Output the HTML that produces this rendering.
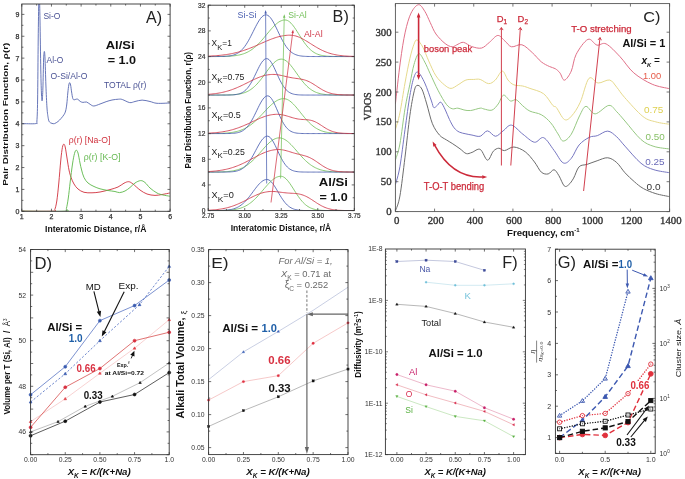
<!DOCTYPE html><html><head><meta charset="utf-8"><style>html,body{margin:0;padding:0;background:#fff;}svg{display:block;}</style></head><body>
<svg width="685" height="479" viewBox="0 0 685 479" style="will-change:transform;filter:blur(0.3px)">
<rect width="685" height="479" fill="#fff"/>
<clipPath id="clipA"><rect x="21.8" y="4.0" width="148.29999999999998" height="207.3"/></clipPath>
<g clip-path="url(#clipA)">
<path d="M21.6,123.6 C23.97,123.6 33.25,124.03 35.8,123.6 C38.35,123.17 36.6,124.93 36.9,121 C37.2,117.07 37.38,113.5 37.6,100 C37.82,86.5 38,56.67 38.2,40 C38.4,23.33 38.6,7.17 38.8,0 C39,-7.17 39.2,-6.33 39.4,-3 C39.6,0.33 39.77,7.83 40,20 C40.23,32.17 40.55,57.5 40.8,70 C41.05,82.5 41.27,89.92 41.5,95 C41.73,100.08 41.97,101.67 42.2,100.5 C42.43,99.33 42.67,94.75 42.9,88 C43.13,81.25 43.37,66.08 43.6,60 C43.83,53.92 44.07,51.83 44.3,51.5 C44.53,51.17 44.73,52.42 45,58 C45.27,63.58 45.57,76.67 45.9,85 C46.23,93.33 46.6,102.42 47,108 C47.4,113.58 47.88,116.17 48.3,118.5 C48.72,120.83 48.88,121.18 49.5,122 C50.12,122.82 51.17,123.13 52,123.4 C52.83,123.67 53.5,123.92 54.5,123.6 C55.5,123.28 56.92,122.35 58,121.5 C59.08,120.65 60.02,119.62 61,118.5 C61.98,117.38 63.13,116.05 63.9,114.8 C64.67,113.55 65.12,112.8 65.6,111 C66.08,109.2 66.43,107 66.8,104 C67.17,101 67.47,96.17 67.8,93 C68.13,89.83 68.48,86.72 68.8,85 C69.12,83.28 69.4,82.7 69.7,82.7 C70,82.7 70.28,83.45 70.6,85 C70.92,86.55 71.23,89.75 71.6,92 C71.97,94.25 72.38,97.2 72.8,98.5 C73.22,99.8 73.6,99.67 74.1,99.8 C74.6,99.93 75.2,99.4 75.8,99.3 C76.4,99.2 76.97,98.85 77.7,99.2 C78.43,99.55 79.33,100.87 80.2,101.4 C81.07,101.93 81.85,102.3 82.9,102.4 C83.95,102.5 85.32,101.7 86.5,102 C87.68,102.3 88.78,103.53 90,104.2 C91.22,104.87 92.13,106.03 93.8,106 C95.47,105.97 97.95,104.72 100,104 C102.05,103.28 104.1,102.37 106.1,101.7 C108.1,101.03 109.93,100.42 112,100 C114.07,99.58 116.78,99.28 118.5,99.2 C120.22,99.12 120.43,98.93 122.3,99.5 C124.17,100.07 127.58,102.27 129.7,102.6 C131.82,102.93 132.93,101.92 135,101.5 C137.07,101.08 139.6,100.1 142.1,100.1 C144.6,100.1 147.52,100.97 150,101.5 C152.48,102.03 153.65,103.05 157,103.3 C160.35,103.55 167.92,103.05 170.1,103" fill="none" stroke="#5666b0" stroke-width="0.9" />
<path d="M21.6,211.2 C26.83,211.2 47.47,211.48 53,211.2 C58.53,210.92 54.17,211.2 54.8,209.5 C55.43,207.8 56.13,205.42 56.8,201 C57.47,196.58 58.13,189.83 58.8,183 C59.47,176.17 60.2,165.92 60.8,160 C61.4,154.08 61.9,150.13 62.4,147.5 C62.9,144.87 63.33,144.28 63.8,144.2 C64.27,144.12 64.67,144.7 65.2,147 C65.73,149.3 66.37,154.17 67,158 C67.63,161.83 68.33,166.78 69,170 C69.67,173.22 70.17,174.97 71,177.3 C71.83,179.63 72.83,182.05 74,184 C75.17,185.95 76.33,187.62 78,189 C79.67,190.38 81.67,191.67 84,192.3 C86.33,192.93 89.33,192.85 92,192.8 C94.67,192.75 97,192.53 100,192 C103,191.47 107,190.43 110,189.6 C113,188.77 115.67,188.07 118,187 C120.33,185.93 122.22,184.08 124,183.2 C125.78,182.32 127.2,181.57 128.7,181.7 C130.2,181.83 131.12,182.62 133,184 C134.88,185.38 137.67,188.33 140,190 C142.33,191.67 144.5,193.1 147,194 C149.5,194.9 152.5,195.32 155,195.4 C157.5,195.48 159.53,194.9 162,194.5 C164.47,194.1 168.5,193.25 169.8,193" fill="none" stroke="#d0303c" stroke-width="0.9" />
<path d="M21.6,211.2 C28.8,211.2 57.33,211.65 64.8,211.2 C72.27,210.75 65.82,210.7 66.4,208.5 C66.98,206.3 67.67,202.42 68.3,198 C68.93,193.58 69.5,187.67 70.2,182 C70.9,176.33 71.78,168.75 72.5,164 C73.22,159.25 73.88,155.8 74.5,153.5 C75.12,151.2 75.62,150.28 76.2,150.2 C76.78,150.12 77.37,150.87 78,153 C78.63,155.13 79.4,160.17 80,163 C80.6,165.83 80.93,167.58 81.6,170 C82.27,172.42 82.93,175.33 84,177.5 C85.07,179.67 86.33,181.5 88,183 C89.67,184.5 92,185.53 94,186.5 C96,187.47 97.67,188.13 100,188.8 C102.33,189.47 105.5,190.05 108,190.5 C110.5,190.95 113.08,191.15 115,191.5 C116.92,191.85 117.83,192.68 119.5,192.6 C121.17,192.52 123.25,191.85 125,191 C126.75,190.15 128.33,188.83 130,187.5 C131.67,186.17 133.23,184.15 135,183 C136.77,181.85 138.93,180.68 140.6,180.6 C142.27,180.52 143.43,181.27 145,182.5 C146.57,183.73 148,186.25 150,188 C152,189.75 154.83,191.83 157,193 C159.17,194.17 160.87,194.47 163,195 C165.13,195.53 168.67,196 169.8,196.2" fill="none" stroke="#5cb84a" stroke-width="0.9" />
</g>
<rect x="21.8" y="4" width="148.3" height="207.3" fill="none" stroke="#333" stroke-width="0.9"/>
<line x1="21.8" y1="211.3" x2="21.8" y2="208.7" stroke="#333" stroke-width="0.7" />
<line x1="21.8" y1="4" x2="21.8" y2="6.6" stroke="#333" stroke-width="0.7" />
<line x1="36.63" y1="211.3" x2="36.63" y2="209.7" stroke="#333" stroke-width="0.7" />
<line x1="36.63" y1="4" x2="36.63" y2="5.6" stroke="#333" stroke-width="0.7" />
<line x1="51.46" y1="211.3" x2="51.46" y2="208.7" stroke="#333" stroke-width="0.7" />
<line x1="51.46" y1="4" x2="51.46" y2="6.6" stroke="#333" stroke-width="0.7" />
<line x1="66.29" y1="211.3" x2="66.29" y2="209.7" stroke="#333" stroke-width="0.7" />
<line x1="66.29" y1="4" x2="66.29" y2="5.6" stroke="#333" stroke-width="0.7" />
<line x1="81.12" y1="211.3" x2="81.12" y2="208.7" stroke="#333" stroke-width="0.7" />
<line x1="81.12" y1="4" x2="81.12" y2="6.6" stroke="#333" stroke-width="0.7" />
<line x1="95.95" y1="211.3" x2="95.95" y2="209.7" stroke="#333" stroke-width="0.7" />
<line x1="95.95" y1="4" x2="95.95" y2="5.6" stroke="#333" stroke-width="0.7" />
<line x1="110.78" y1="211.3" x2="110.78" y2="208.7" stroke="#333" stroke-width="0.7" />
<line x1="110.78" y1="4" x2="110.78" y2="6.6" stroke="#333" stroke-width="0.7" />
<line x1="125.61" y1="211.3" x2="125.61" y2="209.7" stroke="#333" stroke-width="0.7" />
<line x1="125.61" y1="4" x2="125.61" y2="5.6" stroke="#333" stroke-width="0.7" />
<line x1="140.44" y1="211.3" x2="140.44" y2="208.7" stroke="#333" stroke-width="0.7" />
<line x1="140.44" y1="4" x2="140.44" y2="6.6" stroke="#333" stroke-width="0.7" />
<line x1="155.27" y1="211.3" x2="155.27" y2="209.7" stroke="#333" stroke-width="0.7" />
<line x1="155.27" y1="4" x2="155.27" y2="5.6" stroke="#333" stroke-width="0.7" />
<line x1="170.1" y1="211.3" x2="170.1" y2="208.7" stroke="#333" stroke-width="0.7" />
<line x1="170.1" y1="4" x2="170.1" y2="6.6" stroke="#333" stroke-width="0.7" />
<line x1="21.8" y1="211.3" x2="24.4" y2="211.3" stroke="#333" stroke-width="0.7" />
<line x1="170.1" y1="211.3" x2="167.5" y2="211.3" stroke="#333" stroke-width="0.7" />
<line x1="21.8" y1="200.36" x2="23.4" y2="200.36" stroke="#333" stroke-width="0.7" />
<line x1="170.1" y1="200.36" x2="168.5" y2="200.36" stroke="#333" stroke-width="0.7" />
<line x1="21.8" y1="189.42" x2="24.4" y2="189.42" stroke="#333" stroke-width="0.7" />
<line x1="170.1" y1="189.42" x2="167.5" y2="189.42" stroke="#333" stroke-width="0.7" />
<line x1="21.8" y1="178.48" x2="23.4" y2="178.48" stroke="#333" stroke-width="0.7" />
<line x1="170.1" y1="178.48" x2="168.5" y2="178.48" stroke="#333" stroke-width="0.7" />
<line x1="21.8" y1="167.54" x2="24.4" y2="167.54" stroke="#333" stroke-width="0.7" />
<line x1="170.1" y1="167.54" x2="167.5" y2="167.54" stroke="#333" stroke-width="0.7" />
<line x1="21.8" y1="156.6" x2="23.4" y2="156.6" stroke="#333" stroke-width="0.7" />
<line x1="170.1" y1="156.6" x2="168.5" y2="156.6" stroke="#333" stroke-width="0.7" />
<line x1="21.8" y1="145.66" x2="24.4" y2="145.66" stroke="#333" stroke-width="0.7" />
<line x1="170.1" y1="145.66" x2="167.5" y2="145.66" stroke="#333" stroke-width="0.7" />
<line x1="21.8" y1="134.72" x2="23.4" y2="134.72" stroke="#333" stroke-width="0.7" />
<line x1="170.1" y1="134.72" x2="168.5" y2="134.72" stroke="#333" stroke-width="0.7" />
<line x1="21.8" y1="123.78" x2="24.4" y2="123.78" stroke="#333" stroke-width="0.7" />
<line x1="170.1" y1="123.78" x2="167.5" y2="123.78" stroke="#333" stroke-width="0.7" />
<line x1="21.8" y1="112.84" x2="23.4" y2="112.84" stroke="#333" stroke-width="0.7" />
<line x1="170.1" y1="112.84" x2="168.5" y2="112.84" stroke="#333" stroke-width="0.7" />
<line x1="21.8" y1="101.9" x2="24.4" y2="101.9" stroke="#333" stroke-width="0.7" />
<line x1="170.1" y1="101.9" x2="167.5" y2="101.9" stroke="#333" stroke-width="0.7" />
<line x1="21.8" y1="90.96" x2="23.4" y2="90.96" stroke="#333" stroke-width="0.7" />
<line x1="170.1" y1="90.96" x2="168.5" y2="90.96" stroke="#333" stroke-width="0.7" />
<line x1="21.8" y1="80.02" x2="24.4" y2="80.02" stroke="#333" stroke-width="0.7" />
<line x1="170.1" y1="80.02" x2="167.5" y2="80.02" stroke="#333" stroke-width="0.7" />
<line x1="21.8" y1="69.08" x2="23.4" y2="69.08" stroke="#333" stroke-width="0.7" />
<line x1="170.1" y1="69.08" x2="168.5" y2="69.08" stroke="#333" stroke-width="0.7" />
<line x1="21.8" y1="58.14" x2="24.4" y2="58.14" stroke="#333" stroke-width="0.7" />
<line x1="170.1" y1="58.14" x2="167.5" y2="58.14" stroke="#333" stroke-width="0.7" />
<line x1="21.8" y1="47.2" x2="23.4" y2="47.2" stroke="#333" stroke-width="0.7" />
<line x1="170.1" y1="47.2" x2="168.5" y2="47.2" stroke="#333" stroke-width="0.7" />
<line x1="21.8" y1="36.26" x2="24.4" y2="36.26" stroke="#333" stroke-width="0.7" />
<line x1="170.1" y1="36.26" x2="167.5" y2="36.26" stroke="#333" stroke-width="0.7" />
<line x1="21.8" y1="25.32" x2="23.4" y2="25.32" stroke="#333" stroke-width="0.7" />
<line x1="170.1" y1="25.32" x2="168.5" y2="25.32" stroke="#333" stroke-width="0.7" />
<line x1="21.8" y1="14.38" x2="24.4" y2="14.38" stroke="#333" stroke-width="0.7" />
<line x1="170.1" y1="14.38" x2="167.5" y2="14.38" stroke="#333" stroke-width="0.7" />
<text x="21.8" y="219.2" font-family='"Liberation Sans", sans-serif' font-size="7.0" fill="#333" text-anchor="middle" font-weight="normal" font-style="normal" stroke="#333" stroke-width="0.25">1</text>
<text x="51.46" y="219.2" font-family='"Liberation Sans", sans-serif' font-size="7.0" fill="#333" text-anchor="middle" font-weight="normal" font-style="normal" stroke="#333" stroke-width="0.25">2</text>
<text x="81.12" y="219.2" font-family='"Liberation Sans", sans-serif' font-size="7.0" fill="#333" text-anchor="middle" font-weight="normal" font-style="normal" stroke="#333" stroke-width="0.25">3</text>
<text x="110.78" y="219.2" font-family='"Liberation Sans", sans-serif' font-size="7.0" fill="#333" text-anchor="middle" font-weight="normal" font-style="normal" stroke="#333" stroke-width="0.25">4</text>
<text x="140.44" y="219.2" font-family='"Liberation Sans", sans-serif' font-size="7.0" fill="#333" text-anchor="middle" font-weight="normal" font-style="normal" stroke="#333" stroke-width="0.25">5</text>
<text x="170.1" y="219.2" font-family='"Liberation Sans", sans-serif' font-size="7.0" fill="#333" text-anchor="middle" font-weight="normal" font-style="normal" stroke="#333" stroke-width="0.25">6</text>
<text x="19.4" y="213.7" font-family='"Liberation Sans", sans-serif' font-size="7.0" fill="#333" text-anchor="end" font-weight="normal" font-style="normal" stroke="#333" stroke-width="0.25">0</text>
<text x="19.4" y="191.82" font-family='"Liberation Sans", sans-serif' font-size="7.0" fill="#333" text-anchor="end" font-weight="normal" font-style="normal" stroke="#333" stroke-width="0.25">1</text>
<text x="19.4" y="169.94" font-family='"Liberation Sans", sans-serif' font-size="7.0" fill="#333" text-anchor="end" font-weight="normal" font-style="normal" stroke="#333" stroke-width="0.25">2</text>
<text x="19.4" y="148.06" font-family='"Liberation Sans", sans-serif' font-size="7.0" fill="#333" text-anchor="end" font-weight="normal" font-style="normal" stroke="#333" stroke-width="0.25">3</text>
<text x="19.4" y="126.18" font-family='"Liberation Sans", sans-serif' font-size="7.0" fill="#333" text-anchor="end" font-weight="normal" font-style="normal" stroke="#333" stroke-width="0.25">4</text>
<text x="19.4" y="104.3" font-family='"Liberation Sans", sans-serif' font-size="7.0" fill="#333" text-anchor="end" font-weight="normal" font-style="normal" stroke="#333" stroke-width="0.25">5</text>
<text x="19.4" y="82.42" font-family='"Liberation Sans", sans-serif' font-size="7.0" fill="#333" text-anchor="end" font-weight="normal" font-style="normal" stroke="#333" stroke-width="0.25">6</text>
<text x="19.4" y="60.54" font-family='"Liberation Sans", sans-serif' font-size="7.0" fill="#333" text-anchor="end" font-weight="normal" font-style="normal" stroke="#333" stroke-width="0.25">7</text>
<text x="19.4" y="38.66" font-family='"Liberation Sans", sans-serif' font-size="7.0" fill="#333" text-anchor="end" font-weight="normal" font-style="normal" stroke="#333" stroke-width="0.25">8</text>
<text x="19.4" y="16.78" font-family='"Liberation Sans", sans-serif' font-size="7.0" fill="#333" text-anchor="end" font-weight="normal" font-style="normal" stroke="#333" stroke-width="0.25">9</text>
<text x="95.7" y="232.4" font-family='"Liberation Sans", sans-serif' font-size="8.8" fill="#111" text-anchor="middle" font-weight="bold" font-style="normal"  textLength="101.4" lengthAdjust="spacingAndGlyphs">Interatomic Distance, r/&#197;</text>
<text x="0" y="0" font-family='"Liberation Sans", sans-serif' font-size="8.0" fill="#111" text-anchor="middle" font-weight="bold" font-style="normal" transform="translate(8.3,114.2) rotate(-90)" textLength="143" lengthAdjust="spacingAndGlyphs">Pair Distribution Function, &#961;(r)</text>
<text x="146" y="22.6" font-family='"Liberation Sans", sans-serif' font-size="16.4" fill="#222" text-anchor="start" font-weight="normal" font-style="normal"  textLength="16" lengthAdjust="spacingAndGlyphs">A)</text>
<text x="120.1" y="49.2" font-family='"Liberation Sans", sans-serif' font-size="11.4" fill="#111" text-anchor="middle" font-weight="bold" font-style="normal"  textLength="28.8" lengthAdjust="spacingAndGlyphs">Al/Si</text>
<text x="121.9" y="64.2" font-family='"Liberation Sans", sans-serif' font-size="11.4" fill="#111" text-anchor="middle" font-weight="bold" font-style="normal"  textLength="28.4" lengthAdjust="spacingAndGlyphs">= 1.0</text>
<text x="43.4" y="19" font-family='"Liberation Sans", sans-serif' font-size="8.8" fill="#4a5294" text-anchor="start" font-weight="normal" font-style="normal"  textLength="17" lengthAdjust="spacingAndGlyphs">Si-O</text>
<text x="46.6" y="62.5" font-family='"Liberation Sans", sans-serif' font-size="8.8" fill="#4a5294" text-anchor="start" font-weight="normal" font-style="normal"  textLength="16.8" lengthAdjust="spacingAndGlyphs">Al-O</text>
<text x="50.6" y="78.6" font-family='"Liberation Sans", sans-serif' font-size="8.8" fill="#4a5294" text-anchor="start" font-weight="normal" font-style="normal"  textLength="36.8" lengthAdjust="spacingAndGlyphs">O-Si/Al-O</text>
<text x="104" y="87.9" font-family='"Liberation Sans", sans-serif' font-size="8.4" fill="#4a5294" text-anchor="start" font-weight="normal" font-style="normal"  textLength="42.4" lengthAdjust="spacingAndGlyphs">TOTAL &#961;(r)</text>
<text x="68.8" y="143.4" font-family='"Liberation Sans", sans-serif' font-size="8.8" fill="#d0303c" text-anchor="start" font-weight="normal" font-style="normal"  textLength="41.6" lengthAdjust="spacingAndGlyphs">&#961;(r) [Na-O]</text>
<text x="83.8" y="159.8" font-family='"Liberation Sans", sans-serif' font-size="8.8" fill="#64b850" text-anchor="start" font-weight="normal" font-style="normal"  textLength="36.6" lengthAdjust="spacingAndGlyphs">&#961;(r) [K-O]</text>
<clipPath id="clipB"><rect x="208.2" y="5.2" width="146.10000000000002" height="205.4"/></clipPath>
<g clip-path="url(#clipB)">
<path d="M208.2,56.54 L209.42,56.54 L210.63,56.54 L211.85,56.54 L213.07,56.53 L214.29,56.53 L215.5,56.52 L216.72,56.52 L217.94,56.51 L219.16,56.5 L220.38,56.48 L221.59,56.46 L222.81,56.44 L224.03,56.41 L225.25,56.38 L226.46,56.34 L227.68,56.29 L228.9,56.23 L230.11,56.15 L231.33,56.07 L232.55,55.96 L233.77,55.84 L234.98,55.7 L236.2,55.53 L237.42,55.33 L238.64,55.1 L239.86,54.84 L241.07,54.54 L242.29,54.19 L243.51,53.8 L244.72,53.35 L245.94,52.85 L247.16,52.3 L248.38,51.68 L249.59,50.99 L250.81,50.24 L252.03,49.41 L253.25,48.52 L254.46,47.55 L255.68,46.51 L256.9,45.4 L258.12,44.22 L259.34,42.97 L260.55,41.67 L261.77,40.31 L262.99,38.91 L264.2,37.48 L265.42,36.01 L266.64,34.54 L267.86,33.06 L269.07,31.59 L270.29,30.15 L271.51,28.75 L272.73,27.41 L273.95,26.14 L275.16,24.95 L276.38,23.86 L277.6,22.89 L278.81,22.03 L280.03,21.32 L281.25,20.75 L282.47,20.33 L283.69,20.06 L284.9,19.96 L286.12,20.07 L287.34,20.46 L288.55,21.11 L289.77,22.02 L290.99,23.17 L292.21,24.52 L293.43,26.05 L294.64,27.74 L295.86,29.54 L297.08,31.42 L298.3,33.35 L299.51,35.29 L300.73,37.22 L301.95,39.11 L303.16,40.94 L304.38,42.68 L305.6,44.33 L306.82,45.86 L308.04,47.27 L309.25,48.55 L310.47,49.71 L311.69,50.75 L312.91,51.67 L314.12,52.47 L315.34,53.17 L316.56,53.77 L317.77,54.28 L318.99,54.71 L320.21,55.07 L321.43,55.37 L322.64,55.62 L323.86,55.82 L325.08,55.98 L326.3,56.11 L327.51,56.21 L328.73,56.29 L329.95,56.35 L331.17,56.4 L332.38,56.44 L333.6,56.47 L334.82,56.49 L336.04,56.51 L337.25,56.52 L338.47,56.53 L339.69,56.53 L340.91,56.54 L342.12,56.54 L343.34,56.54 L344.56,56.55 L345.78,56.55 L347,56.55 L348.21,56.55 L349.43,56.55 L350.65,56.55 L351.87,56.55 L353.08,56.55 L354.3,56.55" fill="none" stroke="#74c05a" stroke-width="0.85" />
<path d="M208.2,56.55 L209.42,56.55 L210.63,56.55 L211.85,56.55 L213.07,56.54 L214.29,56.54 L215.5,56.54 L216.72,56.53 L217.94,56.52 L219.16,56.51 L220.38,56.49 L221.59,56.47 L222.81,56.43 L224.03,56.39 L225.25,56.33 L226.46,56.25 L227.68,56.14 L228.9,56.01 L230.11,55.83 L231.33,55.6 L232.55,55.32 L233.77,54.97 L234.98,54.53 L236.2,54 L237.42,53.36 L238.64,52.59 L239.86,51.69 L241.07,50.64 L242.29,49.42 L243.51,48.04 L244.72,46.48 L245.94,44.75 L247.16,42.85 L248.38,40.79 L249.59,38.59 L250.81,36.28 L252.03,33.88 L253.25,31.44 L254.46,28.99 L255.68,26.59 L256.9,24.29 L258.12,22.13 L259.34,20.17 L260.55,18.45 L261.77,17.03 L262.99,15.94 L264.2,15.21 L265.42,14.86 L266.64,14.91 L267.86,15.38 L269.07,16.26 L270.29,17.53 L271.51,19.15 L272.73,21.07 L273.95,23.23 L275.16,25.59 L276.38,28.07 L277.6,30.63 L278.81,33.2 L280.03,35.72 L281.25,38.17 L282.47,40.5 L283.69,42.67 L284.9,44.68 L286.12,46.5 L287.34,48.12 L288.55,49.56 L289.77,50.81 L290.99,51.89 L292.21,52.8 L293.43,53.57 L294.64,54.2 L295.86,54.72 L297.08,55.14 L298.3,55.47 L299.51,55.73 L300.73,55.94 L301.95,56.1 L303.16,56.22 L304.38,56.31 L305.6,56.38 L306.82,56.43 L308.04,56.46 L309.25,56.49 L310.47,56.51 L311.69,56.52 L312.91,56.53 L314.12,56.54 L315.34,56.54 L316.56,56.54 L317.77,56.55 L318.99,56.55 L320.21,56.55 L321.43,56.55 L322.64,56.55 L323.86,56.55 L325.08,56.55 L326.3,56.55 L327.51,56.55 L328.73,56.55 L329.95,56.55 L331.17,56.55 L332.38,56.55 L333.6,56.55 L334.82,56.55 L336.04,56.55 L337.25,56.55 L338.47,56.55 L339.69,56.55 L340.91,56.55 L342.12,56.55 L343.34,56.55 L344.56,56.55 L345.78,56.55 L347,56.55 L348.21,56.55 L349.43,56.55 L350.65,56.55 L351.87,56.55 L353.08,56.55 L354.3,56.55" fill="none" stroke="#4a5fb0" stroke-width="0.85" />
<path d="M208.2,56.13 L209.42,56.07 L210.63,56.02 L211.85,55.95 L213.07,55.88 L214.29,55.81 L215.5,55.72 L216.72,55.63 L217.94,55.53 L219.16,55.42 L220.38,55.3 L221.59,55.17 L222.81,55.03 L224.03,54.88 L225.25,54.72 L226.46,54.54 L227.68,54.35 L228.9,54.15 L230.11,53.94 L231.33,53.71 L232.55,53.46 L233.77,53.2 L234.98,52.92 L236.2,52.63 L237.42,52.32 L238.64,51.99 L239.86,51.65 L241.07,51.29 L242.29,50.92 L243.51,50.53 L244.72,50.12 L245.94,49.7 L247.16,49.26 L248.38,48.81 L249.59,48.34 L250.81,47.86 L252.03,47.37 L253.25,46.87 L254.46,46.35 L255.68,45.83 L256.9,45.3 L258.12,44.77 L259.34,44.23 L260.55,43.69 L261.77,43.15 L262.99,42.62 L264.2,42.08 L265.42,41.55 L266.64,41.03 L267.86,40.52 L269.07,40.02 L270.29,39.53 L271.51,39.06 L272.73,38.61 L273.95,38.18 L275.16,37.77 L276.38,37.38 L277.6,37.02 L278.81,36.69 L280.03,36.39 L281.25,36.12 L282.47,35.88 L283.69,35.67 L284.9,35.5 L286.12,35.36 L287.34,35.27 L288.55,35.2 L289.77,35.18 L290.99,35.2 L292.21,35.3 L293.43,35.47 L294.64,35.72 L295.86,36.03 L297.08,36.41 L298.3,36.86 L299.51,37.36 L300.73,37.92 L301.95,38.52 L303.16,39.17 L304.38,39.85 L305.6,40.56 L306.82,41.3 L308.04,42.05 L309.25,42.81 L310.47,43.59 L311.69,44.36 L312.91,45.12 L314.12,45.88 L315.34,46.62 L316.56,47.34 L317.77,48.04 L318.99,48.71 L320.21,49.36 L321.43,49.98 L322.64,50.56 L323.86,51.11 L325.08,51.63 L326.3,52.12 L327.51,52.57 L328.73,52.99 L329.95,53.37 L331.17,53.73 L332.38,54.05 L333.6,54.34 L334.82,54.61 L336.04,54.85 L337.25,55.07 L338.47,55.26 L339.69,55.43 L340.91,55.58 L342.12,55.72 L343.34,55.84 L344.56,55.94 L345.78,56.03 L347,56.11 L348.21,56.18 L349.43,56.24 L350.65,56.29 L351.87,56.33 L353.08,56.37 L354.3,56.4" fill="none" stroke="#d03848" stroke-width="0.85" />
<path d="M208.2,95.06 L209.42,95.06 L210.63,95.06 L211.85,95.06 L213.07,95.06 L214.29,95.06 L215.5,95.06 L216.72,95.05 L217.94,95.05 L219.16,95.05 L220.38,95.04 L221.59,95.03 L222.81,95.02 L224.03,95.01 L225.25,95 L226.46,94.98 L227.68,94.95 L228.9,94.92 L230.11,94.87 L231.33,94.82 L232.55,94.76 L233.77,94.67 L234.98,94.57 L236.2,94.45 L237.42,94.3 L238.64,94.13 L239.86,93.91 L241.07,93.66 L242.29,93.36 L243.51,93.01 L244.72,92.6 L245.94,92.12 L247.16,91.58 L248.38,90.96 L249.59,90.26 L250.81,89.47 L252.03,88.59 L253.25,87.62 L254.46,86.55 L255.68,85.39 L256.9,84.14 L258.12,82.79 L259.34,81.36 L260.55,79.86 L261.77,78.29 L262.99,76.67 L264.2,75.01 L265.42,73.33 L266.64,71.65 L267.86,69.99 L269.07,68.37 L270.29,66.82 L271.51,65.35 L272.73,64 L273.95,62.77 L275.16,61.7 L276.38,60.79 L277.6,60.07 L278.81,59.54 L280.03,59.22 L281.25,59.12 L282.47,59.23 L283.69,59.57 L284.9,60.12 L286.12,60.88 L287.34,61.84 L288.55,62.97 L289.77,64.26 L290.99,65.68 L292.21,67.21 L293.43,68.83 L294.64,70.51 L295.86,72.22 L297.08,73.95 L298.3,75.67 L299.51,77.37 L300.73,79.01 L301.95,80.6 L303.16,82.11 L304.38,83.53 L305.6,84.86 L306.82,86.1 L308.04,87.23 L309.25,88.27 L310.47,89.2 L311.69,90.04 L312.91,90.79 L314.12,91.44 L315.34,92.02 L316.56,92.52 L317.77,92.95 L318.99,93.32 L320.21,93.63 L321.43,93.9 L322.64,94.12 L323.86,94.3 L325.08,94.46 L326.3,94.58 L327.51,94.68 L328.73,94.76 L329.95,94.83 L331.17,94.88 L332.38,94.92 L333.6,94.96 L334.82,94.98 L336.04,95 L337.25,95.02 L338.47,95.03 L339.69,95.04 L340.91,95.04 L342.12,95.05 L343.34,95.05 L344.56,95.06 L345.78,95.06 L347,95.06 L348.21,95.06 L349.43,95.06 L350.65,95.06 L351.87,95.06 L353.08,95.06 L354.3,95.06" fill="none" stroke="#74c05a" stroke-width="0.85" />
<path d="M208.2,95.06 L209.42,95.06 L210.63,95.06 L211.85,95.06 L213.07,95.06 L214.29,95.06 L215.5,95.06 L216.72,95.06 L217.94,95.06 L219.16,95.06 L220.38,95.06 L221.59,95.06 L222.81,95.06 L224.03,95.05 L225.25,95.05 L226.46,95.04 L227.68,95.02 L228.9,95 L230.11,94.97 L231.33,94.93 L232.55,94.87 L233.77,94.79 L234.98,94.67 L236.2,94.51 L237.42,94.29 L238.64,94.01 L239.86,93.64 L241.07,93.16 L242.29,92.56 L243.51,91.81 L244.72,90.9 L245.94,89.8 L247.16,88.5 L248.38,86.98 L249.59,85.25 L250.81,83.31 L252.03,81.17 L253.25,78.85 L254.46,76.4 L255.68,73.87 L256.9,71.31 L258.12,68.8 L259.34,66.42 L260.55,64.23 L261.77,62.31 L262.99,60.74 L264.2,59.57 L265.42,58.85 L266.64,58.6 L267.86,58.88 L269.07,59.68 L270.29,60.99 L271.51,62.73 L272.73,64.84 L273.95,67.24 L275.16,69.83 L276.38,72.52 L277.6,75.22 L278.81,77.86 L280.03,80.37 L281.25,82.7 L282.47,84.81 L283.69,86.69 L284.9,88.33 L286.12,89.73 L287.34,90.9 L288.55,91.86 L289.77,92.64 L290.99,93.25 L292.21,93.73 L293.43,94.1 L294.64,94.38 L295.86,94.58 L297.08,94.73 L298.3,94.83 L299.51,94.91 L300.73,94.96 L301.95,95 L303.16,95.02 L304.38,95.04 L305.6,95.05 L306.82,95.05 L308.04,95.06 L309.25,95.06 L310.47,95.06 L311.69,95.06 L312.91,95.06 L314.12,95.06 L315.34,95.06 L316.56,95.06 L317.77,95.06 L318.99,95.06 L320.21,95.06 L321.43,95.06 L322.64,95.06 L323.86,95.06 L325.08,95.06 L326.3,95.06 L327.51,95.06 L328.73,95.06 L329.95,95.06 L331.17,95.06 L332.38,95.06 L333.6,95.06 L334.82,95.06 L336.04,95.06 L337.25,95.06 L338.47,95.06 L339.69,95.06 L340.91,95.06 L342.12,95.06 L343.34,95.06 L344.56,95.06 L345.78,95.06 L347,95.06 L348.21,95.06 L349.43,95.06 L350.65,95.06 L351.87,95.06 L353.08,95.06 L354.3,95.06" fill="none" stroke="#4a5fb0" stroke-width="0.85" />
<path d="M208.2,94.34 L209.42,94.24 L210.63,94.14 L211.85,94.02 L213.07,93.89 L214.29,93.74 L215.5,93.58 L216.72,93.41 L217.94,93.22 L219.16,93.01 L220.38,92.79 L221.59,92.55 L222.81,92.28 L224.03,92 L225.25,91.7 L226.46,91.37 L227.68,91.03 L228.9,90.66 L230.11,90.27 L231.33,89.86 L232.55,89.42 L233.77,88.97 L234.98,88.49 L236.2,88 L237.42,87.48 L238.64,86.95 L239.86,86.4 L241.07,85.83 L242.29,85.25 L243.51,84.66 L244.72,84.06 L245.94,83.46 L247.16,82.85 L248.38,82.24 L249.59,81.63 L250.81,81.03 L252.03,80.43 L253.25,79.84 L254.46,79.27 L255.68,78.72 L256.9,78.19 L258.12,77.69 L259.34,77.21 L260.55,76.76 L261.77,76.34 L262.99,75.96 L264.2,75.62 L265.42,75.32 L266.64,75.07 L267.86,74.85 L269.07,74.68 L270.29,74.55 L271.51,74.47 L272.73,74.43 L273.95,74.43 L275.16,74.5 L276.38,74.61 L277.6,74.76 L278.81,74.96 L280.03,75.18 L281.25,75.44 L282.47,75.71 L283.69,76 L284.9,76.29 L286.12,76.58 L287.34,76.87 L288.55,77.14 L289.77,77.39 L290.99,77.62 L292.21,77.84 L293.43,78.03 L294.64,78.21 L295.86,78.37 L297.08,78.53 L298.3,78.7 L299.51,78.87 L300.73,79.07 L301.95,79.3 L303.16,79.58 L304.38,79.9 L305.6,80.28 L306.82,80.71 L308.04,81.22 L309.25,81.78 L310.47,82.4 L311.69,83.08 L312.91,83.8 L314.12,84.56 L315.34,85.35 L316.56,86.14 L317.77,86.94 L318.99,87.74 L320.21,88.5 L321.43,89.24 L322.64,89.94 L323.86,90.6 L325.08,91.2 L326.3,91.75 L327.51,92.25 L328.73,92.69 L329.95,93.07 L331.17,93.41 L332.38,93.7 L333.6,93.95 L334.82,94.15 L336.04,94.33 L337.25,94.47 L338.47,94.59 L339.69,94.69 L340.91,94.76 L342.12,94.83 L343.34,94.88 L344.56,94.92 L345.78,94.95 L347,94.97 L348.21,94.99 L349.43,95.01 L350.65,95.02 L351.87,95.03 L353.08,95.03 L354.3,95.04" fill="none" stroke="#d03848" stroke-width="0.85" />
<path d="M208.2,133.55 L209.42,133.55 L210.63,133.54 L211.85,133.53 L213.07,133.52 L214.29,133.5 L215.5,133.48 L216.72,133.46 L217.94,133.44 L219.16,133.41 L220.38,133.37 L221.59,133.33 L222.81,133.27 L224.03,133.21 L225.25,133.14 L226.46,133.05 L227.68,132.95 L228.9,132.83 L230.11,132.69 L231.33,132.53 L232.55,132.35 L233.77,132.14 L234.98,131.9 L236.2,131.63 L237.42,131.32 L238.64,130.97 L239.86,130.59 L241.07,130.15 L242.29,129.68 L243.51,129.15 L244.72,128.56 L245.94,127.93 L247.16,127.23 L248.38,126.48 L249.59,125.67 L250.81,124.8 L252.03,123.87 L253.25,122.88 L254.46,121.84 L255.68,120.74 L256.9,119.6 L258.12,118.41 L259.34,117.18 L260.55,115.92 L261.77,114.64 L262.99,113.34 L264.2,112.03 L265.42,110.73 L266.64,109.44 L267.86,108.17 L269.07,106.94 L270.29,105.75 L271.51,104.63 L272.73,103.57 L273.95,102.59 L275.16,101.7 L276.38,100.91 L277.6,100.23 L278.81,99.66 L280.03,99.22 L281.25,98.9 L282.47,98.71 L283.69,98.66 L284.9,98.76 L286.12,99.05 L287.34,99.52 L288.55,100.15 L289.77,100.94 L290.99,101.89 L292.21,102.96 L293.43,104.16 L294.64,105.45 L295.86,106.83 L297.08,108.28 L298.3,109.77 L299.51,111.29 L300.73,112.83 L301.95,114.36 L303.16,115.86 L304.38,117.34 L305.6,118.77 L306.82,120.15 L308.04,121.46 L309.25,122.7 L310.47,123.87 L311.69,124.95 L312.91,125.96 L314.12,126.88 L315.34,127.72 L316.56,128.48 L317.77,129.17 L318.99,129.78 L320.21,130.33 L321.43,130.81 L322.64,131.23 L323.86,131.6 L325.08,131.92 L326.3,132.2 L327.51,132.43 L328.73,132.63 L329.95,132.8 L331.17,132.94 L332.38,133.06 L333.6,133.16 L334.82,133.24 L336.04,133.31 L337.25,133.36 L338.47,133.41 L339.69,133.44 L340.91,133.47 L342.12,133.49 L343.34,133.51 L344.56,133.53 L345.78,133.54 L347,133.55 L348.21,133.55 L349.43,133.56 L350.65,133.56 L351.87,133.57 L353.08,133.57 L354.3,133.57" fill="none" stroke="#74c05a" stroke-width="0.85" />
<path d="M208.2,133.57 L209.42,133.57 L210.63,133.57 L211.85,133.57 L213.07,133.57 L214.29,133.57 L215.5,133.57 L216.72,133.57 L217.94,133.57 L219.16,133.57 L220.38,133.57 L221.59,133.57 L222.81,133.57 L224.03,133.56 L225.25,133.55 L226.46,133.54 L227.68,133.53 L228.9,133.5 L230.11,133.47 L231.33,133.42 L232.55,133.35 L233.77,133.26 L234.98,133.13 L236.2,132.96 L237.42,132.74 L238.64,132.44 L239.86,132.07 L241.07,131.59 L242.29,130.99 L243.51,130.25 L244.72,129.36 L245.94,128.28 L247.16,127.02 L248.38,125.55 L249.59,123.88 L250.81,122.01 L252.03,119.93 L253.25,117.69 L254.46,115.3 L255.68,112.81 L256.9,110.28 L258.12,107.75 L259.34,105.3 L260.55,103 L261.77,100.91 L262.99,99.12 L264.2,97.67 L265.42,96.61 L266.64,96 L267.86,95.84 L269.07,96.22 L270.29,97.17 L271.51,98.64 L272.73,100.56 L273.95,102.86 L275.16,105.43 L276.38,108.19 L277.6,111.02 L278.81,113.85 L280.03,116.59 L281.25,119.17 L282.47,121.55 L283.69,123.69 L284.9,125.57 L286.12,127.2 L287.34,128.57 L288.55,129.71 L289.77,130.63 L290.99,131.37 L292.21,131.95 L293.43,132.39 L294.64,132.73 L295.86,132.98 L297.08,133.16 L298.3,133.29 L299.51,133.39 L300.73,133.45 L301.95,133.49 L303.16,133.52 L304.38,133.54 L305.6,133.55 L306.82,133.56 L308.04,133.57 L309.25,133.57 L310.47,133.57 L311.69,133.57 L312.91,133.57 L314.12,133.57 L315.34,133.57 L316.56,133.57 L317.77,133.57 L318.99,133.57 L320.21,133.57 L321.43,133.57 L322.64,133.57 L323.86,133.57 L325.08,133.57 L326.3,133.57 L327.51,133.57 L328.73,133.57 L329.95,133.57 L331.17,133.57 L332.38,133.57 L333.6,133.57 L334.82,133.57 L336.04,133.57 L337.25,133.57 L338.47,133.57 L339.69,133.57 L340.91,133.57 L342.12,133.57 L343.34,133.57 L344.56,133.57 L345.78,133.57 L347,133.57 L348.21,133.57 L349.43,133.57 L350.65,133.57 L351.87,133.57 L353.08,133.57 L354.3,133.57" fill="none" stroke="#4a5fb0" stroke-width="0.85" />
<path d="M208.2,133.15 L209.42,133.09 L210.63,133.02 L211.85,132.95 L213.07,132.86 L214.29,132.77 L215.5,132.66 L216.72,132.55 L217.94,132.42 L219.16,132.28 L220.38,132.13 L221.59,131.96 L222.81,131.77 L224.03,131.57 L225.25,131.35 L226.46,131.12 L227.68,130.87 L228.9,130.59 L230.11,130.3 L231.33,129.99 L232.55,129.66 L233.77,129.3 L234.98,128.93 L236.2,128.53 L237.42,128.12 L238.64,127.69 L239.86,127.23 L241.07,126.76 L242.29,126.27 L243.51,125.76 L244.72,125.24 L245.94,124.7 L247.16,124.16 L248.38,123.6 L249.59,123.04 L250.81,122.47 L252.03,121.9 L253.25,121.32 L254.46,120.75 L255.68,120.19 L256.9,119.64 L258.12,119.09 L259.34,118.57 L260.55,118.06 L261.77,117.57 L262.99,117.1 L264.2,116.67 L265.42,116.26 L266.64,115.88 L267.86,115.54 L269.07,115.24 L270.29,114.98 L271.51,114.76 L272.73,114.58 L273.95,114.45 L275.16,114.36 L276.38,114.31 L277.6,114.31 L278.81,114.37 L280.03,114.48 L281.25,114.64 L282.47,114.86 L283.69,115.12 L284.9,115.41 L286.12,115.74 L287.34,116.1 L288.55,116.47 L289.77,116.85 L290.99,117.23 L292.21,117.6 L293.43,117.96 L294.64,118.28 L295.86,118.58 L297.08,118.83 L298.3,119.05 L299.51,119.22 L300.73,119.35 L301.95,119.45 L303.16,119.53 L304.38,119.59 L305.6,119.66 L306.82,119.74 L308.04,119.86 L309.25,120.02 L310.47,120.24 L311.69,120.53 L312.91,120.9 L314.12,121.35 L315.34,121.89 L316.56,122.5 L317.77,123.18 L318.99,123.91 L320.21,124.68 L321.43,125.48 L322.64,126.29 L323.86,127.08 L325.08,127.85 L326.3,128.59 L327.51,129.27 L328.73,129.9 L329.95,130.47 L331.17,130.98 L332.38,131.42 L333.6,131.81 L334.82,132.13 L336.04,132.41 L337.25,132.64 L338.47,132.82 L339.69,132.98 L340.91,133.1 L342.12,133.2 L343.34,133.28 L344.56,133.34 L345.78,133.39 L347,133.43 L348.21,133.46 L349.43,133.48 L350.65,133.5 L351.87,133.51 L353.08,133.53 L354.3,133.53" fill="none" stroke="#d03848" stroke-width="0.85" />
<path d="M208.2,172.07 L209.42,172.07 L210.63,172.06 L211.85,172.06 L213.07,172.05 L214.29,172.04 L215.5,172.02 L216.72,172.01 L217.94,171.99 L219.16,171.96 L220.38,171.93 L221.59,171.89 L222.81,171.84 L224.03,171.78 L225.25,171.71 L226.46,171.63 L227.68,171.53 L228.9,171.41 L230.11,171.27 L231.33,171.1 L232.55,170.91 L233.77,170.69 L234.98,170.43 L236.2,170.13 L237.42,169.8 L238.64,169.41 L239.86,168.98 L241.07,168.49 L242.29,167.94 L243.51,167.33 L244.72,166.66 L245.94,165.92 L247.16,165.11 L248.38,164.23 L249.59,163.28 L250.81,162.27 L252.03,161.18 L253.25,160.03 L254.46,158.83 L255.68,157.56 L256.9,156.25 L258.12,154.9 L259.34,153.52 L260.55,152.12 L261.77,150.72 L262.99,149.32 L264.2,147.94 L265.42,146.59 L266.64,145.29 L267.86,144.06 L269.07,142.9 L270.29,141.83 L271.51,140.87 L272.73,140.03 L273.95,139.31 L275.16,138.73 L276.38,138.3 L277.6,138.01 L278.81,137.88 L280.03,137.91 L281.25,138.1 L282.47,138.44 L283.69,138.94 L284.9,139.58 L286.12,140.36 L287.34,141.26 L288.55,142.27 L289.77,143.39 L290.99,144.59 L292.21,145.87 L293.43,147.2 L294.64,148.58 L295.86,149.98 L297.08,151.39 L298.3,152.81 L299.51,154.21 L300.73,155.59 L301.95,156.93 L303.16,158.23 L304.38,159.47 L305.6,160.66 L306.82,161.78 L308.04,162.84 L309.25,163.83 L310.47,164.74 L311.69,165.59 L312.91,166.36 L314.12,167.07 L315.34,167.71 L316.56,168.28 L317.77,168.8 L318.99,169.26 L320.21,169.66 L321.43,170.02 L322.64,170.33 L323.86,170.6 L325.08,170.84 L326.3,171.04 L327.51,171.22 L328.73,171.37 L329.95,171.49 L331.17,171.6 L332.38,171.69 L333.6,171.76 L334.82,171.82 L336.04,171.88 L337.25,171.92 L338.47,171.95 L339.69,171.98 L340.91,172 L342.12,172.02 L343.34,172.03 L344.56,172.05 L345.78,172.06 L347,172.06 L348.21,172.07 L349.43,172.07 L350.65,172.08 L351.87,172.08 L353.08,172.08 L354.3,172.08" fill="none" stroke="#74c05a" stroke-width="0.85" />
<path d="M208.2,172.09 L209.42,172.09 L210.63,172.09 L211.85,172.09 L213.07,172.09 L214.29,172.09 L215.5,172.09 L216.72,172.09 L217.94,172.08 L219.16,172.08 L220.38,172.08 L221.59,172.07 L222.81,172.07 L224.03,172.06 L225.25,172.04 L226.46,172.02 L227.68,171.99 L228.9,171.95 L230.11,171.89 L231.33,171.81 L232.55,171.71 L233.77,171.57 L234.98,171.39 L236.2,171.15 L237.42,170.85 L238.64,170.47 L239.86,169.99 L241.07,169.41 L242.29,168.7 L243.51,167.85 L244.72,166.84 L245.94,165.67 L247.16,164.33 L248.38,162.81 L249.59,161.11 L250.81,159.24 L252.03,157.23 L253.25,155.09 L254.46,152.85 L255.68,150.56 L256.9,148.27 L258.12,146.02 L259.34,143.88 L260.55,141.9 L261.77,140.13 L262.99,138.64 L264.2,137.47 L265.42,136.65 L266.64,136.21 L267.86,136.18 L269.07,136.65 L270.29,137.62 L271.51,139.05 L272.73,140.88 L273.95,143.03 L275.16,145.42 L276.38,147.98 L277.6,150.6 L278.81,153.22 L280.03,155.75 L281.25,158.16 L282.47,160.38 L283.69,162.38 L284.9,164.17 L286.12,165.71 L287.34,167.03 L288.55,168.14 L289.77,169.04 L290.99,169.78 L292.21,170.36 L293.43,170.81 L294.64,171.16 L295.86,171.42 L297.08,171.62 L298.3,171.76 L299.51,171.86 L300.73,171.94 L301.95,171.99 L303.16,172.02 L304.38,172.04 L305.6,172.06 L306.82,172.07 L308.04,172.08 L309.25,172.08 L310.47,172.08 L311.69,172.09 L312.91,172.09 L314.12,172.09 L315.34,172.09 L316.56,172.09 L317.77,172.09 L318.99,172.09 L320.21,172.09 L321.43,172.09 L322.64,172.09 L323.86,172.09 L325.08,172.09 L326.3,172.09 L327.51,172.09 L328.73,172.09 L329.95,172.09 L331.17,172.09 L332.38,172.09 L333.6,172.09 L334.82,172.09 L336.04,172.09 L337.25,172.09 L338.47,172.09 L339.69,172.09 L340.91,172.09 L342.12,172.09 L343.34,172.09 L344.56,172.09 L345.78,172.09 L347,172.09 L348.21,172.09 L349.43,172.09 L350.65,172.09 L351.87,172.09 L353.08,172.09 L354.3,172.09" fill="none" stroke="#4a5fb0" stroke-width="0.85" />
<path d="M208.2,171.57 L209.42,171.5 L210.63,171.42 L211.85,171.33 L213.07,171.23 L214.29,171.12 L215.5,171 L216.72,170.86 L217.94,170.71 L219.16,170.55 L220.38,170.37 L221.59,170.18 L222.81,169.97 L224.03,169.74 L225.25,169.49 L226.46,169.22 L227.68,168.93 L228.9,168.62 L230.11,168.29 L231.33,167.93 L232.55,167.56 L233.77,167.16 L234.98,166.73 L236.2,166.29 L237.42,165.82 L238.64,165.33 L239.86,164.81 L241.07,164.28 L242.29,163.73 L243.51,163.16 L244.72,162.57 L245.94,161.96 L247.16,161.34 L248.38,160.71 L249.59,160.07 L250.81,159.43 L252.03,158.77 L253.25,158.12 L254.46,157.47 L255.68,156.83 L256.9,156.19 L258.12,155.56 L259.34,154.95 L260.55,154.35 L261.77,153.78 L262.99,153.23 L264.2,152.71 L265.42,152.22 L266.64,151.77 L267.86,151.35 L269.07,150.97 L270.29,150.63 L271.51,150.34 L272.73,150.09 L273.95,149.88 L275.16,149.72 L276.38,149.61 L277.6,149.54 L278.81,149.52 L280.03,149.57 L281.25,149.68 L282.47,149.85 L283.69,150.07 L284.9,150.35 L286.12,150.66 L287.34,151 L288.55,151.36 L289.77,151.74 L290.99,152.12 L292.21,152.5 L293.43,152.86 L294.64,153.22 L295.86,153.55 L297.08,153.87 L298.3,154.18 L299.51,154.47 L300.73,154.76 L301.95,155.05 L303.16,155.36 L304.38,155.69 L305.6,156.05 L306.82,156.45 L308.04,156.91 L309.25,157.42 L310.47,157.99 L311.69,158.63 L312.91,159.32 L314.12,160.06 L315.34,160.85 L316.56,161.67 L317.77,162.52 L318.99,163.37 L320.21,164.22 L321.43,165.05 L322.64,165.85 L323.86,166.61 L325.08,167.33 L326.3,167.99 L327.51,168.59 L328.73,169.13 L329.95,169.6 L331.17,170.02 L332.38,170.39 L333.6,170.7 L334.82,170.96 L336.04,171.18 L337.25,171.36 L338.47,171.51 L339.69,171.63 L340.91,171.73 L342.12,171.8 L343.34,171.86 L344.56,171.91 L345.78,171.95 L347,171.98 L348.21,172 L349.43,172.02 L350.65,172.04 L351.87,172.05 L353.08,172.06 L354.3,172.06" fill="none" stroke="#d03848" stroke-width="0.85" />
<path d="M208.2,210.59 L209.42,210.59 L210.63,210.59 L211.85,210.58 L213.07,210.58 L214.29,210.57 L215.5,210.57 L216.72,210.56 L217.94,210.54 L219.16,210.53 L220.38,210.51 L221.59,210.49 L222.81,210.46 L224.03,210.42 L225.25,210.37 L226.46,210.32 L227.68,210.25 L228.9,210.17 L230.11,210.08 L231.33,209.96 L232.55,209.82 L233.77,209.66 L234.98,209.47 L236.2,209.25 L237.42,208.99 L238.64,208.7 L239.86,208.36 L241.07,207.97 L242.29,207.53 L243.51,207.03 L244.72,206.47 L245.94,205.85 L247.16,205.16 L248.38,204.4 L249.59,203.56 L250.81,202.66 L252.03,201.68 L253.25,200.62 L254.46,199.5 L255.68,198.31 L256.9,197.05 L258.12,195.74 L259.34,194.38 L260.55,192.99 L261.77,191.56 L262.99,190.12 L264.2,188.67 L265.42,187.24 L266.64,185.83 L267.86,184.46 L269.07,183.15 L270.29,181.92 L271.51,180.77 L272.73,179.72 L273.95,178.8 L275.16,178 L276.38,177.34 L277.6,176.83 L278.81,176.48 L280.03,176.29 L281.25,176.28 L282.47,176.53 L283.69,177.07 L284.9,177.88 L286.12,178.95 L287.34,180.24 L288.55,181.73 L289.77,183.38 L290.99,185.15 L292.21,187.01 L293.43,188.92 L294.64,190.85 L295.86,192.76 L297.08,194.62 L298.3,196.41 L299.51,198.11 L300.73,199.7 L301.95,201.16 L303.16,202.5 L304.38,203.71 L305.6,204.79 L306.82,205.74 L308.04,206.57 L309.25,207.29 L310.47,207.9 L311.69,208.42 L312.91,208.85 L314.12,209.21 L315.34,209.51 L316.56,209.75 L317.77,209.94 L318.99,210.09 L320.21,210.21 L321.43,210.31 L322.64,210.38 L323.86,210.44 L325.08,210.48 L326.3,210.51 L327.51,210.54 L328.73,210.56 L329.95,210.57 L331.17,210.58 L332.38,210.58 L333.6,210.59 L334.82,210.59 L336.04,210.59 L337.25,210.6 L338.47,210.6 L339.69,210.6 L340.91,210.6 L342.12,210.6 L343.34,210.6 L344.56,210.6 L345.78,210.6 L347,210.6 L348.21,210.6 L349.43,210.6 L350.65,210.6 L351.87,210.6 L353.08,210.6 L354.3,210.6" fill="none" stroke="#74c05a" stroke-width="0.85" />
<path d="M208.2,210.6 L209.42,210.59 L210.63,210.59 L211.85,210.59 L213.07,210.58 L214.29,210.58 L215.5,210.57 L216.72,210.56 L217.94,210.54 L219.16,210.52 L220.38,210.49 L221.59,210.45 L222.81,210.4 L224.03,210.34 L225.25,210.26 L226.46,210.16 L227.68,210.03 L228.9,209.87 L230.11,209.68 L231.33,209.44 L232.55,209.15 L233.77,208.81 L234.98,208.4 L236.2,207.92 L237.42,207.35 L238.64,206.7 L239.86,205.96 L241.07,205.11 L242.29,204.16 L243.51,203.11 L244.72,201.94 L245.94,200.68 L247.16,199.31 L248.38,197.86 L249.59,196.33 L250.81,194.74 L252.03,193.11 L253.25,191.45 L254.46,189.8 L255.68,188.19 L256.9,186.63 L258.12,185.15 L259.34,183.8 L260.55,182.59 L261.77,181.55 L262.99,180.7 L264.2,180.06 L265.42,179.65 L266.64,179.48 L267.86,179.58 L269.07,180.06 L270.29,180.9 L271.51,182.07 L272.73,183.53 L273.95,185.23 L275.16,187.12 L276.38,189.13 L277.6,191.21 L278.81,193.31 L280.03,195.37 L281.25,197.34 L282.47,199.21 L283.69,200.93 L284.9,202.49 L286.12,203.88 L287.34,205.1 L288.55,206.16 L289.77,207.05 L290.99,207.8 L292.21,208.42 L293.43,208.93 L294.64,209.33 L295.86,209.65 L297.08,209.89 L298.3,210.08 L299.51,210.23 L300.73,210.33 L301.95,210.41 L303.16,210.47 L304.38,210.51 L305.6,210.54 L306.82,210.56 L308.04,210.57 L309.25,210.58 L310.47,210.59 L311.69,210.59 L312.91,210.6 L314.12,210.6 L315.34,210.6 L316.56,210.6 L317.77,210.6 L318.99,210.6 L320.21,210.6 L321.43,210.6 L322.64,210.6 L323.86,210.6 L325.08,210.6 L326.3,210.6 L327.51,210.6 L328.73,210.6 L329.95,210.6 L331.17,210.6 L332.38,210.6 L333.6,210.6 L334.82,210.6 L336.04,210.6 L337.25,210.6 L338.47,210.6 L339.69,210.6 L340.91,210.6 L342.12,210.6 L343.34,210.6 L344.56,210.6 L345.78,210.6 L347,210.6 L348.21,210.6 L349.43,210.6 L350.65,210.6 L351.87,210.6 L353.08,210.6 L354.3,210.6" fill="none" stroke="#4a5fb0" stroke-width="0.85" />
<path d="M208.2,210.23 L209.42,210.17 L210.63,210.1 L211.85,210.02 L213.07,209.93 L214.29,209.83 L215.5,209.71 L216.72,209.58 L217.94,209.44 L219.16,209.28 L220.38,209.1 L221.59,208.9 L222.81,208.69 L224.03,208.45 L225.25,208.19 L226.46,207.91 L227.68,207.6 L228.9,207.27 L230.11,206.92 L231.33,206.54 L232.55,206.13 L233.77,205.7 L234.98,205.24 L236.2,204.76 L237.42,204.25 L238.64,203.72 L239.86,203.17 L241.07,202.6 L242.29,202.02 L243.51,201.42 L244.72,200.81 L245.94,200.19 L247.16,199.56 L248.38,198.93 L249.59,198.31 L250.81,197.69 L252.03,197.08 L253.25,196.48 L254.46,195.91 L255.68,195.35 L256.9,194.82 L258.12,194.33 L259.34,193.86 L260.55,193.43 L261.77,193.04 L262.99,192.7 L264.2,192.39 L265.42,192.13 L266.64,191.91 L267.86,191.73 L269.07,191.59 L270.29,191.49 L271.51,191.45 L272.73,191.45 L273.95,191.5 L275.16,191.58 L276.38,191.7 L277.6,191.83 L278.81,191.99 L280.03,192.15 L281.25,192.32 L282.47,192.48 L283.69,192.63 L284.9,192.76 L286.12,192.88 L287.34,192.99 L288.55,193.08 L289.77,193.15 L290.99,193.22 L292.21,193.29 L293.43,193.36 L294.64,193.45 L295.86,193.56 L297.08,193.7 L298.3,193.88 L299.51,194.11 L300.73,194.4 L301.95,194.75 L303.16,195.15 L304.38,195.63 L305.6,196.17 L306.82,196.76 L308.04,197.42 L309.25,198.12 L310.47,198.87 L311.69,199.64 L312.91,200.44 L314.12,201.25 L315.34,202.05 L316.56,202.85 L317.77,203.63 L318.99,204.37 L320.21,205.08 L321.43,205.75 L322.64,206.37 L323.86,206.94 L325.08,207.46 L326.3,207.93 L327.51,208.34 L328.73,208.71 L329.95,209.03 L331.17,209.31 L332.38,209.54 L333.6,209.74 L334.82,209.91 L336.04,210.05 L337.25,210.17 L338.47,210.26 L339.69,210.34 L340.91,210.4 L342.12,210.44 L343.34,210.48 L344.56,210.51 L345.78,210.53 L347,210.55 L348.21,210.56 L349.43,210.57 L350.65,210.58 L351.87,210.59 L353.08,210.59 L354.3,210.59" fill="none" stroke="#d03848" stroke-width="0.85" />
</g>
<line x1="266.7" y1="183.5" x2="265.61" y2="12.16" stroke="#4a5fb0" stroke-width="0.75" />
<path d="M265.6,10 L266.82,13.59 L264.42,13.61 Z" fill="#4a5fb0"/>
<line x1="280.6" y1="178.5" x2="284.25" y2="16.36" stroke="#74c05a" stroke-width="0.75" />
<path d="M284.3,14.2 L285.42,17.83 L283.02,17.77 Z" fill="#74c05a"/>
<line x1="271" y1="202.5" x2="292.83" y2="31.64" stroke="#d03848" stroke-width="0.75" />
<path d="M293.1,29.5 L293.83,33.22 L291.45,32.92 Z" fill="#d03848"/>
<rect x="208.2" y="5.2" width="146.1" height="205.4" fill="none" stroke="#333" stroke-width="0.9"/>
<line x1="208.2" y1="210.6" x2="208.2" y2="208" stroke="#333" stroke-width="0.7" />
<line x1="208.2" y1="5.2" x2="208.2" y2="7.8" stroke="#333" stroke-width="0.7" />
<line x1="226.46" y1="210.6" x2="226.46" y2="209" stroke="#333" stroke-width="0.7" />
<line x1="226.46" y1="5.2" x2="226.46" y2="6.8" stroke="#333" stroke-width="0.7" />
<line x1="244.72" y1="210.6" x2="244.72" y2="208" stroke="#333" stroke-width="0.7" />
<line x1="244.72" y1="5.2" x2="244.72" y2="7.8" stroke="#333" stroke-width="0.7" />
<line x1="262.99" y1="210.6" x2="262.99" y2="209" stroke="#333" stroke-width="0.7" />
<line x1="262.99" y1="5.2" x2="262.99" y2="6.8" stroke="#333" stroke-width="0.7" />
<line x1="281.25" y1="210.6" x2="281.25" y2="208" stroke="#333" stroke-width="0.7" />
<line x1="281.25" y1="5.2" x2="281.25" y2="7.8" stroke="#333" stroke-width="0.7" />
<line x1="299.51" y1="210.6" x2="299.51" y2="209" stroke="#333" stroke-width="0.7" />
<line x1="299.51" y1="5.2" x2="299.51" y2="6.8" stroke="#333" stroke-width="0.7" />
<line x1="317.77" y1="210.6" x2="317.77" y2="208" stroke="#333" stroke-width="0.7" />
<line x1="317.77" y1="5.2" x2="317.77" y2="7.8" stroke="#333" stroke-width="0.7" />
<line x1="336.04" y1="210.6" x2="336.04" y2="209" stroke="#333" stroke-width="0.7" />
<line x1="336.04" y1="5.2" x2="336.04" y2="6.8" stroke="#333" stroke-width="0.7" />
<line x1="354.3" y1="210.6" x2="354.3" y2="208" stroke="#333" stroke-width="0.7" />
<line x1="354.3" y1="5.2" x2="354.3" y2="7.8" stroke="#333" stroke-width="0.7" />
<line x1="208.2" y1="210.6" x2="210.8" y2="210.6" stroke="#333" stroke-width="0.7" />
<line x1="354.3" y1="210.6" x2="351.7" y2="210.6" stroke="#333" stroke-width="0.7" />
<line x1="208.2" y1="197.76" x2="209.8" y2="197.76" stroke="#333" stroke-width="0.7" />
<line x1="354.3" y1="197.76" x2="352.7" y2="197.76" stroke="#333" stroke-width="0.7" />
<line x1="208.2" y1="184.92" x2="210.8" y2="184.92" stroke="#333" stroke-width="0.7" />
<line x1="354.3" y1="184.92" x2="351.7" y2="184.92" stroke="#333" stroke-width="0.7" />
<line x1="208.2" y1="172.09" x2="209.8" y2="172.09" stroke="#333" stroke-width="0.7" />
<line x1="354.3" y1="172.09" x2="352.7" y2="172.09" stroke="#333" stroke-width="0.7" />
<line x1="208.2" y1="159.25" x2="210.8" y2="159.25" stroke="#333" stroke-width="0.7" />
<line x1="354.3" y1="159.25" x2="351.7" y2="159.25" stroke="#333" stroke-width="0.7" />
<line x1="208.2" y1="146.41" x2="209.8" y2="146.41" stroke="#333" stroke-width="0.7" />
<line x1="354.3" y1="146.41" x2="352.7" y2="146.41" stroke="#333" stroke-width="0.7" />
<line x1="208.2" y1="133.57" x2="210.8" y2="133.57" stroke="#333" stroke-width="0.7" />
<line x1="354.3" y1="133.57" x2="351.7" y2="133.57" stroke="#333" stroke-width="0.7" />
<line x1="208.2" y1="120.74" x2="209.8" y2="120.74" stroke="#333" stroke-width="0.7" />
<line x1="354.3" y1="120.74" x2="352.7" y2="120.74" stroke="#333" stroke-width="0.7" />
<line x1="208.2" y1="107.9" x2="210.8" y2="107.9" stroke="#333" stroke-width="0.7" />
<line x1="354.3" y1="107.9" x2="351.7" y2="107.9" stroke="#333" stroke-width="0.7" />
<line x1="208.2" y1="95.06" x2="209.8" y2="95.06" stroke="#333" stroke-width="0.7" />
<line x1="354.3" y1="95.06" x2="352.7" y2="95.06" stroke="#333" stroke-width="0.7" />
<line x1="208.2" y1="82.22" x2="210.8" y2="82.22" stroke="#333" stroke-width="0.7" />
<line x1="354.3" y1="82.22" x2="351.7" y2="82.22" stroke="#333" stroke-width="0.7" />
<line x1="208.2" y1="69.39" x2="209.8" y2="69.39" stroke="#333" stroke-width="0.7" />
<line x1="354.3" y1="69.39" x2="352.7" y2="69.39" stroke="#333" stroke-width="0.7" />
<line x1="208.2" y1="56.55" x2="210.8" y2="56.55" stroke="#333" stroke-width="0.7" />
<line x1="354.3" y1="56.55" x2="351.7" y2="56.55" stroke="#333" stroke-width="0.7" />
<line x1="208.2" y1="43.71" x2="209.8" y2="43.71" stroke="#333" stroke-width="0.7" />
<line x1="354.3" y1="43.71" x2="352.7" y2="43.71" stroke="#333" stroke-width="0.7" />
<line x1="208.2" y1="30.88" x2="210.8" y2="30.88" stroke="#333" stroke-width="0.7" />
<line x1="354.3" y1="30.88" x2="351.7" y2="30.88" stroke="#333" stroke-width="0.7" />
<line x1="208.2" y1="18.04" x2="209.8" y2="18.04" stroke="#333" stroke-width="0.7" />
<line x1="354.3" y1="18.04" x2="352.7" y2="18.04" stroke="#333" stroke-width="0.7" />
<line x1="208.2" y1="5.2" x2="210.8" y2="5.2" stroke="#333" stroke-width="0.7" />
<line x1="354.3" y1="5.2" x2="351.7" y2="5.2" stroke="#333" stroke-width="0.7" />
<text x="208.2" y="218.2" font-family='"Liberation Sans", sans-serif' font-size="6.4" fill="#333" text-anchor="middle" font-weight="normal" font-style="normal" stroke="#333" stroke-width="0.2">2.75</text>
<text x="244.72" y="218.2" font-family='"Liberation Sans", sans-serif' font-size="6.4" fill="#333" text-anchor="middle" font-weight="normal" font-style="normal" stroke="#333" stroke-width="0.2">3.00</text>
<text x="281.25" y="218.2" font-family='"Liberation Sans", sans-serif' font-size="6.4" fill="#333" text-anchor="middle" font-weight="normal" font-style="normal" stroke="#333" stroke-width="0.2">3.25</text>
<text x="317.77" y="218.2" font-family='"Liberation Sans", sans-serif' font-size="6.4" fill="#333" text-anchor="middle" font-weight="normal" font-style="normal" stroke="#333" stroke-width="0.2">3.50</text>
<text x="354.3" y="218.2" font-family='"Liberation Sans", sans-serif' font-size="6.4" fill="#333" text-anchor="middle" font-weight="normal" font-style="normal" stroke="#333" stroke-width="0.2">3.75</text>
<text x="205.4" y="212.9" font-family='"Liberation Sans", sans-serif' font-size="6.6" fill="#333" text-anchor="end" font-weight="normal" font-style="normal" stroke="#333" stroke-width="0.2">0</text>
<text x="205.4" y="187.22" font-family='"Liberation Sans", sans-serif' font-size="6.6" fill="#333" text-anchor="end" font-weight="normal" font-style="normal" stroke="#333" stroke-width="0.2">4</text>
<text x="205.4" y="161.55" font-family='"Liberation Sans", sans-serif' font-size="6.6" fill="#333" text-anchor="end" font-weight="normal" font-style="normal" stroke="#333" stroke-width="0.2">8</text>
<text x="205.4" y="135.88" font-family='"Liberation Sans", sans-serif' font-size="6.6" fill="#333" text-anchor="end" font-weight="normal" font-style="normal" stroke="#333" stroke-width="0.2">12</text>
<text x="205.4" y="110.2" font-family='"Liberation Sans", sans-serif' font-size="6.6" fill="#333" text-anchor="end" font-weight="normal" font-style="normal" stroke="#333" stroke-width="0.2">16</text>
<text x="205.4" y="84.52" font-family='"Liberation Sans", sans-serif' font-size="6.6" fill="#333" text-anchor="end" font-weight="normal" font-style="normal" stroke="#333" stroke-width="0.2">20</text>
<text x="205.4" y="58.85" font-family='"Liberation Sans", sans-serif' font-size="6.6" fill="#333" text-anchor="end" font-weight="normal" font-style="normal" stroke="#333" stroke-width="0.2">24</text>
<text x="205.4" y="33.17" font-family='"Liberation Sans", sans-serif' font-size="6.6" fill="#333" text-anchor="end" font-weight="normal" font-style="normal" stroke="#333" stroke-width="0.2">28</text>
<text x="205.4" y="7.5" font-family='"Liberation Sans", sans-serif' font-size="6.6" fill="#333" text-anchor="end" font-weight="normal" font-style="normal" stroke="#333" stroke-width="0.2">32</text>
<text x="281" y="231" font-family='"Liberation Sans", sans-serif' font-size="8.8" fill="#111" text-anchor="middle" font-weight="bold" font-style="normal"  textLength="100.6" lengthAdjust="spacingAndGlyphs">Interatomic Distance, r/&#197;</text>
<text x="0" y="0" font-family='"Liberation Sans", sans-serif' font-size="8.2" fill="#111" text-anchor="middle" font-weight="bold" font-style="normal" transform="translate(190.6,110.2) rotate(-90)" textLength="116.5" lengthAdjust="spacingAndGlyphs">Pair Distribution Function, r(&#961;)</text>
<text x="332.6" y="22.4" font-family='"Liberation Sans", sans-serif' font-size="16.4" fill="#222" text-anchor="start" font-weight="normal" font-style="normal"  textLength="16.2" lengthAdjust="spacingAndGlyphs">B)</text>
<text x="237.6" y="17.9" font-family='"Liberation Sans", sans-serif' font-size="8.4" fill="#4a5fb0" text-anchor="start" font-weight="normal" font-style="normal"  textLength="18.8" lengthAdjust="spacingAndGlyphs">Si-Si</text>
<text x="288.3" y="17.9" font-family='"Liberation Sans", sans-serif' font-size="8.4" fill="#74c05a" text-anchor="start" font-weight="normal" font-style="normal"  textLength="18.3" lengthAdjust="spacingAndGlyphs">Si-Al</text>
<text x="304" y="37" font-family='"Liberation Sans", sans-serif' font-size="8.4" fill="#d03848" text-anchor="start" font-weight="normal" font-style="normal"  textLength="18.6" lengthAdjust="spacingAndGlyphs">Al-Al</text>
<text x="211.6" y="46.4" font-family='"Liberation Sans", sans-serif' font-size="8.4" fill="#222" textLength="20.2" lengthAdjust="spacingAndGlyphs">X<tspan font-size="7.6" dy="3.4">K</tspan><tspan dy="-3.4">=1</tspan></text>
<text x="211.6" y="79.6" font-family='"Liberation Sans", sans-serif' font-size="8.4" fill="#222" textLength="32.8" lengthAdjust="spacingAndGlyphs">X<tspan font-size="7.6" dy="3.4">K</tspan><tspan dy="-3.4">=0.75</tspan></text>
<text x="211.6" y="118" font-family='"Liberation Sans", sans-serif' font-size="8.4" fill="#222" textLength="29.2" lengthAdjust="spacingAndGlyphs">X<tspan font-size="7.6" dy="3.4">K</tspan><tspan dy="-3.4">=0.5</tspan></text>
<text x="211.6" y="154.9" font-family='"Liberation Sans", sans-serif' font-size="8.4" fill="#222" textLength="33.2" lengthAdjust="spacingAndGlyphs">X<tspan font-size="7.6" dy="3.4">K</tspan><tspan dy="-3.4">=0.25</tspan></text>
<text x="211.6" y="198.2" font-family='"Liberation Sans", sans-serif' font-size="8.4" fill="#222" textLength="22.2" lengthAdjust="spacingAndGlyphs">X<tspan font-size="7.6" dy="3.4">K</tspan><tspan dy="-3.4">=0</tspan></text>
<text x="333.4" y="186.4" font-family='"Liberation Sans", sans-serif' font-size="11.4" fill="#111" text-anchor="middle" font-weight="bold" font-style="normal"  textLength="29.2" lengthAdjust="spacingAndGlyphs">Al/Si</text>
<text x="333.6" y="201.4" font-family='"Liberation Sans", sans-serif' font-size="11.4" fill="#111" text-anchor="middle" font-weight="bold" font-style="normal"  textLength="28.2" lengthAdjust="spacingAndGlyphs">= 1.0</text>
<clipPath id="clipC"><rect x="395.4" y="3.6" width="274.20000000000005" height="208.0"/></clipPath>
<g clip-path="url(#clipC)">
<path d="M395.4,211 C396.15,208.51 398.31,205.02 399.9,196.05 C401.5,187.08 403.33,170.64 405,157.18 C406.66,143.73 408.39,126.19 409.89,115.32 C411.39,104.46 412.83,96.98 414.01,92 C415.18,87.02 415.64,85.92 416.94,85.42 C418.25,84.92 420.21,85.92 421.84,89.01 C423.47,92.1 424.97,98.18 426.74,103.96 C428.5,109.74 430.3,118.51 432.42,123.69 C434.54,128.88 437.15,132.36 439.47,135.06 C441.79,137.75 444.2,138.44 446.32,139.84 C448.44,141.24 449.91,141.93 452.2,143.43 C454.48,144.92 457.68,147.12 460.03,148.81 C462.38,150.5 464.31,153 466.3,153.59 C468.29,154.19 469.66,153.1 471.98,152.4 C474.3,151.7 477.63,148.11 480.21,149.41 C482.78,150.7 485.27,159.87 487.45,160.17 C489.64,160.47 491.44,153.2 493.33,151.2 C495.22,149.21 496.95,148.31 498.81,148.21 C500.67,148.11 501.98,150.8 504.49,150.6 C507.01,150.4 510.43,146.82 513.89,147.02 C517.35,147.22 521.83,149.31 525.25,151.8 C528.68,154.29 531.78,158.58 534.46,161.97 C537.14,165.35 539.03,170.14 541.31,172.13 C543.6,174.13 546.05,174.32 548.17,173.93 C550.29,173.53 552.25,169.44 554.04,169.74 C555.84,170.04 557.24,173.03 558.94,175.72 C560.64,178.41 562.6,184.39 564.23,185.89 C565.86,187.38 567.17,185.99 568.73,184.69 C570.3,183.39 571.9,181.1 573.63,178.11 C575.36,175.12 576.86,169.04 579.11,166.75 C581.37,164.46 584.14,165.35 587.14,164.36 C590.15,163.36 593.71,161.87 597.13,160.77 C600.56,159.67 604.44,157.48 607.71,157.78 C610.97,158.08 613.85,160.07 616.72,162.56 C619.59,165.06 622.01,169.54 624.94,172.73 C627.88,175.92 631.28,179.07 634.35,181.7 C637.41,184.33 639.76,186.52 643.36,188.52 C646.95,190.51 651.52,192.3 655.89,193.66 C660.26,195.02 667.32,196.15 669.6,196.65" fill="none" stroke="#6c6c6c" stroke-width="1.0" />
<path d="M395.4,184.69 C396.15,181.7 398.31,175.92 399.9,166.75 C401.5,157.58 403.33,141.53 405,129.67 C406.66,117.81 408.39,104.36 409.89,95.59 C411.39,86.82 412.64,80.94 414.01,77.05 C415.38,73.16 416.32,71.27 418.12,72.27 C419.91,73.26 422.56,78.25 424.78,83.03 C427,87.81 429.94,96.88 431.44,100.97 C432.94,105.06 432.78,106.85 433.79,107.55 C434.8,108.25 436.33,106.05 437.51,105.16 C438.68,104.26 439.53,101.37 440.84,102.17 C442.14,102.96 443.91,107.05 445.34,109.94 C446.78,112.83 447.99,116.52 449.46,119.51 C450.93,122.5 452.52,125.79 454.16,127.88 C455.79,129.97 457.29,131.07 459.25,132.07 C461.21,133.06 463.79,133.36 465.91,133.86 C468.03,134.36 469.6,134.66 471.98,135.06 C474.36,135.45 477.63,136.95 480.21,136.25 C482.78,135.55 484.91,130.87 487.45,130.87 C490,130.87 492.87,136.25 495.48,136.25 C498.09,136.25 500.44,132.72 503.12,130.87 C505.8,129.02 508.25,124.57 511.54,125.13 C514.84,125.69 519.08,131.37 522.9,134.22 C526.72,137.07 531,141.65 534.46,142.23 C537.92,142.81 540.4,136.33 543.66,137.69 C546.93,139.04 550.78,146.16 554.04,150.36 C557.31,154.57 560.38,161.59 563.25,162.92 C566.12,164.26 568.64,161.38 571.28,158.38 C573.92,155.38 576.11,148.43 579.11,144.92 C582.12,141.41 586.26,138.87 589.3,137.33 C592.33,135.78 594.26,136.69 597.33,135.65 C600.4,134.62 604.48,130.91 607.71,131.11 C610.94,131.31 613.85,134.35 616.72,136.85 C619.59,139.35 620.9,141.71 624.94,146.12 C628.99,150.52 636.17,159.34 641,163.28 C645.84,167.22 649.17,168.17 653.93,169.74 C658.7,171.31 666.99,172.23 669.6,172.73" fill="none" stroke="#7676c0" stroke-width="1.0" />
<path d="M395.4,160.17 C396.15,157.48 398.31,152.6 399.9,144.03 C401.5,135.45 403.33,118.71 405,108.74 C406.66,98.78 408.39,91.6 409.89,84.23 C411.39,76.85 412.5,69.57 414.01,64.49 C415.51,59.41 417.11,54.13 418.9,53.73 C420.7,53.33 422.92,58.81 424.78,62.1 C426.64,65.39 427.81,68.68 430.07,73.46 C432.32,78.25 435.58,85.67 438.29,90.8 C441,95.94 444.01,101.27 446.32,104.26 C448.64,107.25 450.27,108.1 452.2,108.74 C454.12,109.39 455.92,107.95 457.88,108.15 C459.84,108.35 461.83,109.54 463.95,109.94 C466.07,110.34 467.9,110.84 470.61,110.54 C473.32,110.24 477.99,108.41 480.21,108.15 C482.43,107.89 481.97,108.65 483.93,108.98 C485.89,109.31 489.57,110.96 491.96,110.12 C494.34,109.28 496.3,106.46 498.23,103.96 C500.15,101.46 501.49,95.61 503.51,95.11 C505.54,94.61 508.25,100.19 510.37,100.97 C512.49,101.75 514.19,98.98 516.24,99.77 C518.3,100.57 520.42,103.86 522.71,105.75 C524.99,107.65 526.85,109.64 529.95,111.14 C533.05,112.63 537.85,112.78 541.31,114.72 C544.77,116.67 547.94,119.61 550.71,122.8 C553.49,125.99 555.87,130.82 557.96,133.86 C560.05,136.9 561.03,140.98 563.25,141.04 C565.47,141.1 568.57,138.4 571.28,134.22 C573.99,130.03 577.06,120.56 579.51,115.92 C581.95,111.28 583.36,106.69 585.97,106.35 C588.58,106.01 591.36,114.05 595.17,113.89 C598.99,113.73 605.29,105.75 608.88,105.4 C612.48,105.04 614.04,109.13 616.72,111.73 C619.4,114.34 620.9,116.37 624.94,121 C628.99,125.64 636.17,135.31 641,139.54 C645.84,143.78 649.17,144.84 653.93,146.42 C658.7,147.99 666.99,148.56 669.6,148.99" fill="none" stroke="#96c882" stroke-width="1.0" />
<path d="M395.4,129.67 C396.15,126.88 398.31,120.7 399.9,112.93 C401.5,105.16 403.33,92.1 405,83.03 C406.66,73.96 408.39,64.99 409.89,58.51 C411.39,52.03 412.8,47.25 414.01,44.16 C415.21,41.07 415.67,39.48 417.14,39.97 C418.61,40.47 420.89,43.66 422.82,47.15 C424.75,50.64 426.51,56.12 428.7,60.9 C430.88,65.69 433.33,71.87 435.94,75.85 C438.55,79.84 441.85,82.73 444.36,84.82 C446.88,86.92 448.74,88.41 451.02,88.41 C453.31,88.41 455.59,86.22 458.07,84.82 C460.56,83.43 463.3,80.94 465.91,80.04 C468.52,79.14 471.36,79.54 473.74,79.44 C476.13,79.34 477.73,78.74 480.21,79.44 C482.69,80.14 486.11,83.53 488.63,83.63 C491.14,83.73 493,82.13 495.29,80.04 C497.57,77.95 500.22,71.07 502.34,71.07 C504.46,71.07 506.09,77.75 508.02,80.04 C509.94,82.33 511.45,83.83 513.89,84.82 C516.34,85.82 520.03,85.42 522.71,86.02 C525.38,86.62 526.46,87.12 529.95,88.41 C533.45,89.71 539.84,90.94 543.66,93.79 C547.48,96.64 550.75,103.22 552.87,105.51 C554.99,107.81 554.47,105.22 556.39,107.55 C558.32,109.88 561.88,118.11 564.42,119.51 C566.97,120.9 569.03,118.81 571.67,115.92 C574.32,113.03 577.42,108.42 580.29,102.17 C583.16,95.92 585.94,81.61 588.91,78.43 C591.88,75.24 594.65,82.76 598.11,83.03 C601.57,83.3 606.57,79.34 609.67,80.04 C612.77,80.74 614.24,84.33 616.72,87.22 C619.2,90.11 620.18,92.5 624.55,97.38 C628.93,102.27 637.74,112.43 642.96,116.52 C648.19,120.6 651.45,120.6 655.89,121.9 C660.33,123.2 667.32,123.89 669.6,124.29" fill="none" stroke="#e6d98c" stroke-width="1.0" />
<path d="M395.4,103.96 C396.22,96.98 398.66,74.06 400.3,62.1 C401.93,50.14 403.4,40.37 405.19,32.2 C406.99,24.03 408.85,17.65 411.07,13.06 C413.29,8.48 416.23,4.99 418.51,4.69 C420.8,4.39 422.82,8.28 424.78,11.27 C426.74,14.26 428.4,18.84 430.26,22.63 C432.12,26.42 433.46,30.51 435.94,33.99 C438.42,37.48 442.44,41.43 445.15,43.56 C447.86,45.69 450.04,46.69 452.2,46.79 C454.35,46.89 456.18,44.9 458.07,44.16 C459.97,43.42 461.27,41.97 463.56,42.37 C465.84,42.76 468.78,45.61 471.78,46.55 C474.79,47.5 478.64,48.74 481.58,48.05 C484.51,47.35 486.7,44.47 489.41,42.37 C492.12,40.26 495.22,35.63 497.83,35.43 C500.44,35.23 502.79,39.28 505.08,41.17 C507.37,43.06 508.74,46.19 511.54,46.79 C514.35,47.39 518.46,43.78 521.92,44.76 C525.38,45.73 529.07,49.8 532.3,52.65 C535.54,55.5 538.47,59.56 541.31,61.86 C544.15,64.16 547.03,65.33 549.34,66.47 C551.66,67.6 553.46,67.61 555.22,68.68 C556.98,69.74 558.39,70.95 559.92,72.86 C561.45,74.78 562.53,80.46 564.42,80.16 C566.32,79.86 569.32,75.38 571.28,71.07 C573.24,66.76 573.4,59.61 576.18,54.33 C578.95,49.04 584.47,40.91 587.93,39.38 C591.39,37.84 593.9,44.36 596.94,45.12 C599.97,45.87 602.29,41.99 606.14,43.92 C609.99,45.85 615.45,51.89 620.05,56.72 C624.65,61.54 628.4,68.28 633.76,72.86 C639.11,77.45 646.2,81.58 652.17,84.23 C658.14,86.87 666.69,87.96 669.6,88.71" fill="none" stroke="#e07088" stroke-width="1.0" />
</g>
<line x1="418.6" y1="15.4" x2="418.6" y2="77" stroke="#cc2a3a" stroke-width="1.6" />
<path d="M418.6,80 L416.8,75 L420.4,75 Z" fill="#cc2a3a"/>
<path d="M418.6,12.4 L420.4,17.4 L416.8,17.4 Z" fill="#cc2a3a"/>
<text x="423.8" y="52.1" font-family='"Liberation Sans", sans-serif' font-size="9.8" fill="#cc2a3a" text-anchor="start" font-weight="normal" font-style="normal" stroke="#cc2a3a" stroke-width="0.25" textLength="48.4" lengthAdjust="spacingAndGlyphs">boson peak</text>
<line x1="501.4" y1="165.5" x2="501.4" y2="27.6" stroke="#cc2a3a" stroke-width="0.9" />
<path d="M503.09,30.08 L501.4,27.6 L499.71,30.08" fill="none" stroke="#cc2a3a" stroke-width="0.9" stroke-linejoin="miter"/>
<line x1="510.8" y1="165.5" x2="520.4" y2="27.6" stroke="#cc2a3a" stroke-width="0.9" />
<path d="M521.92,30.19 L520.4,27.6 L518.54,29.95" fill="none" stroke="#cc2a3a" stroke-width="0.9" stroke-linejoin="miter"/>
<text x="496.8" y="22.4" font-family='"Liberation Sans", sans-serif' font-size="9.4" fill="#cc2a3a" stroke="#cc2a3a" stroke-width="0.25">D<tspan font-size="6.4" dy="2">1</tspan></text>
<text x="517.6" y="22.4" font-family='"Liberation Sans", sans-serif' font-size="9.4" fill="#cc2a3a" stroke="#cc2a3a" stroke-width="0.25">D<tspan font-size="6.4" dy="2">2</tspan></text>
<line x1="583.6" y1="191" x2="600" y2="37.6" stroke="#cc2a3a" stroke-width="0.9" />
<path d="M601.42,40.24 L600,37.6 L598.05,39.88" fill="none" stroke="#cc2a3a" stroke-width="0.9" stroke-linejoin="miter"/>
<text x="571.2" y="31.7" font-family='"Liberation Sans", sans-serif' font-size="9.8" fill="#cc2a3a" text-anchor="start" font-weight="normal" font-style="normal" stroke="#cc2a3a" stroke-width="0.25" textLength="60.4" lengthAdjust="spacingAndGlyphs">T-O stretching</text>
<path d="M434.6,145.2 Q452.4,178.45 482.6,176.9" fill="none" stroke="#cc2a3a" stroke-width="1.5"/>
<path d="M432.6,141.5 L436.52,145.09 L433.34,146.76 Z" fill="#cc2a3a"/>
<path d="M487.2,176.9 L482.25,178.83 L482.16,175.23 Z" fill="#cc2a3a"/>
<text x="423.8" y="189.7" font-family='"Liberation Sans", sans-serif' font-size="10.0" fill="#cc2a3a" text-anchor="start" font-weight="normal" font-style="normal" stroke="#cc2a3a" stroke-width="0.25" textLength="60.4" lengthAdjust="spacingAndGlyphs">T-O-T bending</text>
<rect x="395.4" y="3.6" width="274.2" height="208" fill="none" stroke="#555" stroke-width="0.9"/>
<line x1="395.4" y1="211.6" x2="395.4" y2="208.6" stroke="#555" stroke-width="0.8" />
<line x1="395.4" y1="3.6" x2="395.4" y2="6.6" stroke="#555" stroke-width="0.8" />
<text x="396.6" y="223.6" font-family='"Liberation Serif", serif' font-size="10.8" fill="#333" text-anchor="middle" font-weight="normal" font-style="normal" stroke="#333" stroke-width="0.35">0</text>
<line x1="434.57" y1="211.6" x2="434.57" y2="208.6" stroke="#555" stroke-width="0.8" />
<line x1="434.57" y1="3.6" x2="434.57" y2="6.6" stroke="#555" stroke-width="0.8" />
<text x="435.77" y="223.6" font-family='"Liberation Serif", serif' font-size="10.8" fill="#333" text-anchor="middle" font-weight="normal" font-style="normal" stroke="#333" stroke-width="0.35">200</text>
<line x1="473.74" y1="211.6" x2="473.74" y2="208.6" stroke="#555" stroke-width="0.8" />
<line x1="473.74" y1="3.6" x2="473.74" y2="6.6" stroke="#555" stroke-width="0.8" />
<text x="474.94" y="223.6" font-family='"Liberation Serif", serif' font-size="10.8" fill="#333" text-anchor="middle" font-weight="normal" font-style="normal" stroke="#333" stroke-width="0.35">400</text>
<line x1="512.91" y1="211.6" x2="512.91" y2="208.6" stroke="#555" stroke-width="0.8" />
<line x1="512.91" y1="3.6" x2="512.91" y2="6.6" stroke="#555" stroke-width="0.8" />
<text x="514.11" y="223.6" font-family='"Liberation Serif", serif' font-size="10.8" fill="#333" text-anchor="middle" font-weight="normal" font-style="normal" stroke="#333" stroke-width="0.35">600</text>
<line x1="552.09" y1="211.6" x2="552.09" y2="208.6" stroke="#555" stroke-width="0.8" />
<line x1="552.09" y1="3.6" x2="552.09" y2="6.6" stroke="#555" stroke-width="0.8" />
<text x="553.29" y="223.6" font-family='"Liberation Serif", serif' font-size="10.8" fill="#333" text-anchor="middle" font-weight="normal" font-style="normal" stroke="#333" stroke-width="0.35">800</text>
<line x1="591.26" y1="211.6" x2="591.26" y2="208.6" stroke="#555" stroke-width="0.8" />
<line x1="591.26" y1="3.6" x2="591.26" y2="6.6" stroke="#555" stroke-width="0.8" />
<text x="592.46" y="223.6" font-family='"Liberation Serif", serif' font-size="10.8" fill="#333" text-anchor="middle" font-weight="normal" font-style="normal" stroke="#333" stroke-width="0.35">1000</text>
<line x1="630.43" y1="211.6" x2="630.43" y2="208.6" stroke="#555" stroke-width="0.8" />
<line x1="630.43" y1="3.6" x2="630.43" y2="6.6" stroke="#555" stroke-width="0.8" />
<text x="631.63" y="223.6" font-family='"Liberation Serif", serif' font-size="10.8" fill="#333" text-anchor="middle" font-weight="normal" font-style="normal" stroke="#333" stroke-width="0.35">1200</text>
<line x1="669.6" y1="211.6" x2="669.6" y2="208.6" stroke="#555" stroke-width="0.8" />
<line x1="669.6" y1="3.6" x2="669.6" y2="6.6" stroke="#555" stroke-width="0.8" />
<text x="670.8" y="223.6" font-family='"Liberation Serif", serif' font-size="10.8" fill="#333" text-anchor="middle" font-weight="normal" font-style="normal" stroke="#333" stroke-width="0.35">1400</text>
<line x1="395.4" y1="211.6" x2="398.4" y2="211.6" stroke="#555" stroke-width="0.8" />
<line x1="669.6" y1="211.6" x2="666.6" y2="211.6" stroke="#555" stroke-width="0.8" />
<text x="391.6" y="215.1" font-family='"Liberation Serif", serif' font-size="10.8" fill="#333" text-anchor="end" font-weight="normal" font-style="normal" stroke="#333" stroke-width="0.35">0</text>
<line x1="395.4" y1="181.7" x2="398.4" y2="181.7" stroke="#555" stroke-width="0.8" />
<line x1="669.6" y1="181.7" x2="666.6" y2="181.7" stroke="#555" stroke-width="0.8" />
<text x="391.6" y="185.2" font-family='"Liberation Serif", serif' font-size="10.8" fill="#333" text-anchor="end" font-weight="normal" font-style="normal" stroke="#333" stroke-width="0.35">50</text>
<line x1="395.4" y1="151.8" x2="398.4" y2="151.8" stroke="#555" stroke-width="0.8" />
<line x1="669.6" y1="151.8" x2="666.6" y2="151.8" stroke="#555" stroke-width="0.8" />
<text x="391.6" y="155.3" font-family='"Liberation Serif", serif' font-size="10.8" fill="#333" text-anchor="end" font-weight="normal" font-style="normal" stroke="#333" stroke-width="0.35">100</text>
<line x1="395.4" y1="121.9" x2="398.4" y2="121.9" stroke="#555" stroke-width="0.8" />
<line x1="669.6" y1="121.9" x2="666.6" y2="121.9" stroke="#555" stroke-width="0.8" />
<text x="391.6" y="125.4" font-family='"Liberation Serif", serif' font-size="10.8" fill="#333" text-anchor="end" font-weight="normal" font-style="normal" stroke="#333" stroke-width="0.35">150</text>
<line x1="395.4" y1="92" x2="398.4" y2="92" stroke="#555" stroke-width="0.8" />
<line x1="669.6" y1="92" x2="666.6" y2="92" stroke="#555" stroke-width="0.8" />
<text x="391.6" y="95.5" font-family='"Liberation Serif", serif' font-size="10.8" fill="#333" text-anchor="end" font-weight="normal" font-style="normal" stroke="#333" stroke-width="0.35">200</text>
<line x1="395.4" y1="62.1" x2="398.4" y2="62.1" stroke="#555" stroke-width="0.8" />
<line x1="669.6" y1="62.1" x2="666.6" y2="62.1" stroke="#555" stroke-width="0.8" />
<text x="391.6" y="65.6" font-family='"Liberation Serif", serif' font-size="10.8" fill="#333" text-anchor="end" font-weight="normal" font-style="normal" stroke="#333" stroke-width="0.35">250</text>
<line x1="395.4" y1="32.2" x2="398.4" y2="32.2" stroke="#555" stroke-width="0.8" />
<line x1="669.6" y1="32.2" x2="666.6" y2="32.2" stroke="#555" stroke-width="0.8" />
<text x="391.6" y="35.7" font-family='"Liberation Serif", serif' font-size="10.8" fill="#333" text-anchor="end" font-weight="normal" font-style="normal" stroke="#333" stroke-width="0.35">300</text>
<text x="0" y="0" font-family='"Liberation Serif", serif' font-size="10.4" fill="#333" text-anchor="middle" font-weight="normal" font-style="normal" transform="translate(370.8,106.2) rotate(-90)" stroke="#333" stroke-width="0.35" textLength="28" lengthAdjust="spacingAndGlyphs">VDOS</text>
<text x="507" y="235.5" font-family='"Liberation Sans", sans-serif' font-size="8.8" font-weight="bold" fill="#111" textLength="72.6" lengthAdjust="spacingAndGlyphs">Frequency, cm<tspan font-size="5.5" dy="-3.4">-1</tspan></text>
<text x="643.2" y="22.4" font-family='"Liberation Sans", sans-serif' font-size="13.8" fill="#222" text-anchor="start" font-weight="normal" font-style="normal"  textLength="17.2" lengthAdjust="spacingAndGlyphs">C)</text>
<text x="622.4" y="46.7" font-family='"Liberation Sans", sans-serif' font-size="10.2" fill="#111" text-anchor="start" font-weight="bold" font-style="normal"  textLength="43" lengthAdjust="spacingAndGlyphs">Al/Si = 1</text>
<text x="641.4" y="64.3" font-family='"Liberation Sans", sans-serif' font-size="10.6" font-weight="bold" font-style="italic" fill="#111" textLength="18.6" lengthAdjust="spacingAndGlyphs">x<tspan font-size="6" dy="2.4">K</tspan><tspan dy="-2.4" font-weight="normal" font-style="normal"> =</tspan></text>
<text x="642.9" y="78.5" font-family='"Liberation Sans", sans-serif' font-size="9.2" fill="#e65a48" text-anchor="start" font-weight="normal" font-style="normal"  textLength="18.2" lengthAdjust="spacingAndGlyphs">1.00</text>
<text x="644" y="113.2" font-family='"Liberation Sans", sans-serif' font-size="9.2" fill="#ded050" text-anchor="start" font-weight="normal" font-style="normal"  textLength="19.4" lengthAdjust="spacingAndGlyphs">0.75</text>
<text x="645.6" y="140" font-family='"Liberation Sans", sans-serif' font-size="9.2" fill="#88c068" text-anchor="start" font-weight="normal" font-style="normal"  textLength="19.2" lengthAdjust="spacingAndGlyphs">0.50</text>
<text x="645.2" y="165.2" font-family='"Liberation Sans", sans-serif' font-size="9.2" fill="#6a6ab8" text-anchor="start" font-weight="normal" font-style="normal"  textLength="19.4" lengthAdjust="spacingAndGlyphs">0.25</text>
<text x="646.6" y="190.2" font-family='"Liberation Sans", sans-serif' font-size="9.2" fill="#333" text-anchor="start" font-weight="normal" font-style="normal"  textLength="14" lengthAdjust="spacingAndGlyphs">0.0</text>
<path d="M30.6,402.03 L65.25,373.76 L99.9,340.7 L139.54,304.68 L169.2,266.37" fill="none" stroke="#4a6ac0" stroke-width="0.8" stroke-dasharray="2.2,1.8" stroke-linecap="butt"/>
<path d="M30.6,400.55 L32.03,403.02 L29.17,403.02 Z" fill="#3a5cb0" stroke="#3a5cb0" stroke-width="0.6" stroke-linejoin="miter"/>
<path d="M65.25,372.28 L66.68,374.75 L63.82,374.75 Z" fill="#3a5cb0" stroke="#3a5cb0" stroke-width="0.6" stroke-linejoin="miter"/>
<path d="M99.9,339.22 L101.33,341.69 L98.47,341.69 Z" fill="#3a5cb0" stroke="#3a5cb0" stroke-width="0.6" stroke-linejoin="miter"/>
<path d="M139.54,303.19 L140.97,305.66 L138.11,305.66 Z" fill="#3a5cb0" stroke="#3a5cb0" stroke-width="0.6" stroke-linejoin="miter"/>
<path d="M169.2,264.89 L170.63,267.36 L167.77,267.36 Z" fill="#3a5cb0" stroke="#3a5cb0" stroke-width="0.6" stroke-linejoin="miter"/>
<path d="M30.6,394.74 L65.25,366.69 L99.9,320.64 L134.55,305.59 L169.2,280.05" fill="none" stroke="#5a76c4" stroke-width="0.8"  stroke-linecap="butt"/>
<circle cx="30.6" cy="394.74" r="1.5" fill="#3a5cb0" stroke="#3a5cb0" stroke-width="0.6"/>
<circle cx="65.25" cy="366.69" r="1.5" fill="#3a5cb0" stroke="#3a5cb0" stroke-width="0.6"/>
<circle cx="99.9" cy="320.64" r="1.5" fill="#3a5cb0" stroke="#3a5cb0" stroke-width="0.6"/>
<circle cx="134.55" cy="305.59" r="1.5" fill="#3a5cb0" stroke="#3a5cb0" stroke-width="0.6"/>
<circle cx="169.2" cy="280.05" r="1.5" fill="#3a5cb0" stroke="#3a5cb0" stroke-width="0.6"/>
<path d="M30.6,421.64 L65.25,398.84 L99.9,373.3 L134.55,348.22 L169.2,319.72" fill="none" stroke="#f4b4b4" stroke-width="0.6"  stroke-linecap="butt"/>
<path d="M30.6,420.27 L31.92,422.55 L29.28,422.55 Z" fill="#e04048" stroke="#e04048" stroke-width="0.6" stroke-linejoin="miter"/>
<path d="M65.25,397.47 L66.57,399.75 L63.93,399.75 Z" fill="#e04048" stroke="#e04048" stroke-width="0.6" stroke-linejoin="miter"/>
<path d="M99.9,371.94 L101.22,374.22 L98.58,374.22 Z" fill="#e04048" stroke="#e04048" stroke-width="0.6" stroke-linejoin="miter"/>
<path d="M134.55,346.86 L135.87,349.14 L133.23,349.14 Z" fill="#e04048" stroke="#e04048" stroke-width="0.6" stroke-linejoin="miter"/>
<path d="M169.2,318.36 L170.52,320.64 L167.88,320.64 Z" fill="#e04048" stroke="#e04048" stroke-width="0.6" stroke-linejoin="miter"/>
<path d="M30.6,427.34 L65.25,387.21 L99.9,368.52 L134.55,340.7 L169.2,332.26" fill="none" stroke="#d85050" stroke-width="0.8"  stroke-linecap="butt"/>
<circle cx="30.6" cy="427.34" r="1.5" fill="#d83040" stroke="#d83040" stroke-width="0.6"/>
<circle cx="65.25" cy="387.21" r="1.5" fill="#d83040" stroke="#d83040" stroke-width="0.6"/>
<circle cx="99.9" cy="368.52" r="1.5" fill="#d83040" stroke="#d83040" stroke-width="0.6"/>
<circle cx="134.55" cy="340.7" r="1.5" fill="#d83040" stroke="#d83040" stroke-width="0.6"/>
<circle cx="169.2" cy="332.26" r="1.5" fill="#d83040" stroke="#d83040" stroke-width="0.6"/>
<path d="M30.6,431.9 L58.04,421.64 L85.21,406.36 L112.37,396.33 L140.09,382.65 L169.2,363.04" fill="none" stroke="#999" stroke-width="0.6"  stroke-linecap="butt"/>
<path d="M30.6,430.65 L31.81,432.74 L29.39,432.74 Z" fill="#111" stroke="#111" stroke-width="0.6" stroke-linejoin="miter"/>
<path d="M58.04,420.39 L59.25,422.48 L56.83,422.48 Z" fill="#111" stroke="#111" stroke-width="0.6" stroke-linejoin="miter"/>
<path d="M85.21,405.11 L86.42,407.2 L84,407.2 Z" fill="#111" stroke="#111" stroke-width="0.6" stroke-linejoin="miter"/>
<path d="M112.37,395.08 L113.58,397.17 L111.16,397.17 Z" fill="#111" stroke="#111" stroke-width="0.6" stroke-linejoin="miter"/>
<path d="M140.09,381.4 L141.3,383.49 L138.88,383.49 Z" fill="#111" stroke="#111" stroke-width="0.6" stroke-linejoin="miter"/>
<path d="M169.2,361.79 L170.41,363.88 L167.99,363.88 Z" fill="#111" stroke="#111" stroke-width="0.6" stroke-linejoin="miter"/>
<path d="M30.6,435.78 L65.25,421.18 L99.9,402.03 L134.55,394.51 L169.2,372.62" fill="none" stroke="#333" stroke-width="0.8"  stroke-linecap="butt"/>
<circle cx="30.6" cy="435.78" r="1.5" fill="#111" stroke="#111" stroke-width="0.6"/>
<circle cx="65.25" cy="421.18" r="1.5" fill="#111" stroke="#111" stroke-width="0.6"/>
<circle cx="99.9" cy="402.03" r="1.5" fill="#111" stroke="#111" stroke-width="0.6"/>
<circle cx="134.55" cy="394.51" r="1.5" fill="#111" stroke="#111" stroke-width="0.6"/>
<circle cx="169.2" cy="372.62" r="1.5" fill="#111" stroke="#111" stroke-width="0.6"/>
<rect x="30.6" y="249.5" width="138.6" height="205.2" fill="none" stroke="#333" stroke-width="0.9"/>
<line x1="30.6" y1="454.7" x2="30.6" y2="452.1" stroke="#333" stroke-width="0.7" />
<line x1="30.6" y1="249.5" x2="30.6" y2="252.1" stroke="#333" stroke-width="0.7" />
<line x1="47.92" y1="454.7" x2="47.92" y2="453.1" stroke="#333" stroke-width="0.7" />
<line x1="47.92" y1="249.5" x2="47.92" y2="251.1" stroke="#333" stroke-width="0.7" />
<line x1="65.25" y1="454.7" x2="65.25" y2="452.1" stroke="#333" stroke-width="0.7" />
<line x1="65.25" y1="249.5" x2="65.25" y2="252.1" stroke="#333" stroke-width="0.7" />
<line x1="82.57" y1="454.7" x2="82.57" y2="453.1" stroke="#333" stroke-width="0.7" />
<line x1="82.57" y1="249.5" x2="82.57" y2="251.1" stroke="#333" stroke-width="0.7" />
<line x1="99.9" y1="454.7" x2="99.9" y2="452.1" stroke="#333" stroke-width="0.7" />
<line x1="99.9" y1="249.5" x2="99.9" y2="252.1" stroke="#333" stroke-width="0.7" />
<line x1="117.22" y1="454.7" x2="117.22" y2="453.1" stroke="#333" stroke-width="0.7" />
<line x1="117.22" y1="249.5" x2="117.22" y2="251.1" stroke="#333" stroke-width="0.7" />
<line x1="134.55" y1="454.7" x2="134.55" y2="452.1" stroke="#333" stroke-width="0.7" />
<line x1="134.55" y1="249.5" x2="134.55" y2="252.1" stroke="#333" stroke-width="0.7" />
<line x1="151.88" y1="454.7" x2="151.88" y2="453.1" stroke="#333" stroke-width="0.7" />
<line x1="151.88" y1="249.5" x2="151.88" y2="251.1" stroke="#333" stroke-width="0.7" />
<line x1="169.2" y1="454.7" x2="169.2" y2="452.1" stroke="#333" stroke-width="0.7" />
<line x1="169.2" y1="249.5" x2="169.2" y2="252.1" stroke="#333" stroke-width="0.7" />
<line x1="30.6" y1="454.7" x2="33.2" y2="454.7" stroke="#333" stroke-width="0.7" />
<line x1="169.2" y1="454.7" x2="166.6" y2="454.7" stroke="#333" stroke-width="0.7" />
<line x1="30.6" y1="443.3" x2="32.2" y2="443.3" stroke="#333" stroke-width="0.7" />
<line x1="169.2" y1="443.3" x2="167.6" y2="443.3" stroke="#333" stroke-width="0.7" />
<line x1="30.6" y1="431.9" x2="33.2" y2="431.9" stroke="#333" stroke-width="0.7" />
<line x1="169.2" y1="431.9" x2="166.6" y2="431.9" stroke="#333" stroke-width="0.7" />
<line x1="30.6" y1="420.5" x2="32.2" y2="420.5" stroke="#333" stroke-width="0.7" />
<line x1="169.2" y1="420.5" x2="167.6" y2="420.5" stroke="#333" stroke-width="0.7" />
<line x1="30.6" y1="409.1" x2="33.2" y2="409.1" stroke="#333" stroke-width="0.7" />
<line x1="169.2" y1="409.1" x2="166.6" y2="409.1" stroke="#333" stroke-width="0.7" />
<line x1="30.6" y1="397.7" x2="32.2" y2="397.7" stroke="#333" stroke-width="0.7" />
<line x1="169.2" y1="397.7" x2="167.6" y2="397.7" stroke="#333" stroke-width="0.7" />
<line x1="30.6" y1="386.3" x2="33.2" y2="386.3" stroke="#333" stroke-width="0.7" />
<line x1="169.2" y1="386.3" x2="166.6" y2="386.3" stroke="#333" stroke-width="0.7" />
<line x1="30.6" y1="374.9" x2="32.2" y2="374.9" stroke="#333" stroke-width="0.7" />
<line x1="169.2" y1="374.9" x2="167.6" y2="374.9" stroke="#333" stroke-width="0.7" />
<line x1="30.6" y1="363.5" x2="33.2" y2="363.5" stroke="#333" stroke-width="0.7" />
<line x1="169.2" y1="363.5" x2="166.6" y2="363.5" stroke="#333" stroke-width="0.7" />
<line x1="30.6" y1="352.1" x2="32.2" y2="352.1" stroke="#333" stroke-width="0.7" />
<line x1="169.2" y1="352.1" x2="167.6" y2="352.1" stroke="#333" stroke-width="0.7" />
<line x1="30.6" y1="340.7" x2="33.2" y2="340.7" stroke="#333" stroke-width="0.7" />
<line x1="169.2" y1="340.7" x2="166.6" y2="340.7" stroke="#333" stroke-width="0.7" />
<line x1="30.6" y1="329.3" x2="32.2" y2="329.3" stroke="#333" stroke-width="0.7" />
<line x1="169.2" y1="329.3" x2="167.6" y2="329.3" stroke="#333" stroke-width="0.7" />
<line x1="30.6" y1="317.9" x2="33.2" y2="317.9" stroke="#333" stroke-width="0.7" />
<line x1="169.2" y1="317.9" x2="166.6" y2="317.9" stroke="#333" stroke-width="0.7" />
<line x1="30.6" y1="306.5" x2="32.2" y2="306.5" stroke="#333" stroke-width="0.7" />
<line x1="169.2" y1="306.5" x2="167.6" y2="306.5" stroke="#333" stroke-width="0.7" />
<line x1="30.6" y1="295.1" x2="33.2" y2="295.1" stroke="#333" stroke-width="0.7" />
<line x1="169.2" y1="295.1" x2="166.6" y2="295.1" stroke="#333" stroke-width="0.7" />
<line x1="30.6" y1="283.7" x2="32.2" y2="283.7" stroke="#333" stroke-width="0.7" />
<line x1="169.2" y1="283.7" x2="167.6" y2="283.7" stroke="#333" stroke-width="0.7" />
<line x1="30.6" y1="272.3" x2="33.2" y2="272.3" stroke="#333" stroke-width="0.7" />
<line x1="169.2" y1="272.3" x2="166.6" y2="272.3" stroke="#333" stroke-width="0.7" />
<line x1="30.6" y1="260.9" x2="32.2" y2="260.9" stroke="#333" stroke-width="0.7" />
<line x1="169.2" y1="260.9" x2="167.6" y2="260.9" stroke="#333" stroke-width="0.7" />
<line x1="30.6" y1="249.5" x2="33.2" y2="249.5" stroke="#333" stroke-width="0.7" />
<line x1="169.2" y1="249.5" x2="166.6" y2="249.5" stroke="#333" stroke-width="0.7" />
<text x="30.6" y="462.4" font-family='"Liberation Sans", sans-serif' font-size="6.8" fill="#333" text-anchor="middle" font-weight="normal" font-style="normal" >0.00</text>
<text x="65.25" y="462.4" font-family='"Liberation Sans", sans-serif' font-size="6.8" fill="#333" text-anchor="middle" font-weight="normal" font-style="normal" >0.25</text>
<text x="99.9" y="462.4" font-family='"Liberation Sans", sans-serif' font-size="6.8" fill="#333" text-anchor="middle" font-weight="normal" font-style="normal" >0.50</text>
<text x="134.55" y="462.4" font-family='"Liberation Sans", sans-serif' font-size="6.8" fill="#333" text-anchor="middle" font-weight="normal" font-style="normal" >0.75</text>
<text x="169.2" y="462.4" font-family='"Liberation Sans", sans-serif' font-size="6.8" fill="#333" text-anchor="middle" font-weight="normal" font-style="normal" >1.0</text>
<text x="26" y="434.3" font-family='"Liberation Sans", sans-serif' font-size="6.8" fill="#333" text-anchor="end" font-weight="normal" font-style="normal" >46</text>
<text x="26" y="388.7" font-family='"Liberation Sans", sans-serif' font-size="6.8" fill="#333" text-anchor="end" font-weight="normal" font-style="normal" >48</text>
<text x="26" y="343.1" font-family='"Liberation Sans", sans-serif' font-size="6.8" fill="#333" text-anchor="end" font-weight="normal" font-style="normal" >50</text>
<text x="26" y="297.5" font-family='"Liberation Sans", sans-serif' font-size="6.8" fill="#333" text-anchor="end" font-weight="normal" font-style="normal" >52</text>
<text x="26" y="251.9" font-family='"Liberation Sans", sans-serif' font-size="6.8" fill="#333" text-anchor="end" font-weight="normal" font-style="normal" >54</text>
<text x="99.2" y="475.4" font-family='"Liberation Sans", sans-serif' font-size="9.6" font-weight="bold" font-style="italic" fill="#111" text-anchor="middle" textLength="63" lengthAdjust="spacingAndGlyphs">X<tspan font-size="6.4" dy="2.8">K</tspan><tspan dy="-2.8"> = K/(K+Na)</tspan></text>
<text transform="translate(9.6,366.5) rotate(-90)" font-family='"Liberation Sans", sans-serif' font-size="9.0" font-weight="bold" fill="#111" text-anchor="middle" textLength="96" lengthAdjust="spacingAndGlyphs" xml:space="preserve">Volume per T (Si, Al)  /  <tspan font-weight="normal">&#197;</tspan><tspan font-size="5" dy="-3" font-weight="normal">3</tspan></text>
<text x="34.4" y="268.6" font-family='"Liberation Sans", sans-serif' font-size="15.6" fill="#222" text-anchor="start" font-weight="normal" font-style="normal"  textLength="17.6" lengthAdjust="spacingAndGlyphs">D)</text>
<text x="47.2" y="331" font-family='"Liberation Sans", sans-serif' font-size="10.4" fill="#111" text-anchor="start" font-weight="bold" font-style="normal"  textLength="35" lengthAdjust="spacingAndGlyphs">Al/Si =</text>
<text x="75.6" y="341.6" font-family='"Liberation Sans", sans-serif' font-size="10.0" fill="#1f5fa8" text-anchor="middle" font-weight="bold" font-style="normal" >1.0</text>
<text x="76.6" y="371.5" font-family='"Liberation Sans", sans-serif' font-size="10.2" fill="#d83040" text-anchor="start" font-weight="bold" font-style="normal"  textLength="19" lengthAdjust="spacingAndGlyphs">0.66</text>
<text x="83.7" y="398.7" font-family='"Liberation Sans", sans-serif' font-size="10.2" fill="#111" text-anchor="start" font-weight="bold" font-style="normal"  textLength="19" lengthAdjust="spacingAndGlyphs">0.33</text>
<text x="85.7" y="289.7" font-family='"Liberation Sans", sans-serif' font-size="8.6" fill="#111" text-anchor="start" font-weight="normal" font-style="normal"  textLength="15" lengthAdjust="spacingAndGlyphs">MD</text>
<text x="118.6" y="289" font-family='"Liberation Sans", sans-serif' font-size="8.6" fill="#111" text-anchor="start" font-weight="normal" font-style="normal"  textLength="19.8" lengthAdjust="spacingAndGlyphs">Exp.</text>
<line x1="93.9" y1="291.3" x2="99.52" y2="313.51" stroke="#111" stroke-width="1.1" />
<path d="M100.4,317 L96.8,311.72 L101.06,310.64 Z" fill="#111"/>
<line x1="124.2" y1="291.7" x2="103.41" y2="333.38" stroke="#111" stroke-width="1.1" />
<path d="M101.8,336.6 L102.51,330.25 L106.45,332.21 Z" fill="#111"/>
<text x="117" y="366.6" font-family='"Liberation Sans", sans-serif' font-size="6.2" font-weight="bold" fill="#111" textLength="12.6" lengthAdjust="spacingAndGlyphs">Exp.<tspan font-size="4.4" dy="-2.4">f</tspan></text>
<text x="104.8" y="375.2" font-family='"Liberation Sans", sans-serif' font-size="6.2" fill="#111" text-anchor="start" font-weight="bold" font-style="normal"  textLength="39.2" lengthAdjust="spacingAndGlyphs">at Al/Si=0.72</text>
<line x1="131.2" y1="358.4" x2="133.19" y2="353.68" stroke="#111" stroke-width="0.9" />
<path d="M134.4,350.8 L134.5,356.49 L130.26,354.7 Z" fill="#111"/>
<path d="M208.6,379.62 L243.45,351.9 L278.3,331.44 L313.15,310.32 L348,287.22" fill="none" stroke="#a4aed0" stroke-width="0.6" />
<path d="M243.45,350.65 L244.66,352.74 L242.24,352.74 Z" fill="#3a60b8" stroke="#3a60b8" stroke-width="0.4" stroke-linejoin="miter"/>
<path d="M278.3,330.19 L279.51,332.28 L277.09,332.28 Z" fill="#3a60b8" stroke="#3a60b8" stroke-width="0.4" stroke-linejoin="miter"/>
<path d="M208.6,400.08 L243.45,381.6 L278.3,375.66 L313.15,343.32 L348,322.86" fill="none" stroke="#f0a4a4" stroke-width="0.6"  stroke-linecap="butt"/>
<circle cx="208.6" cy="400.08" r="1.2" fill="#e03040" stroke="#e03040" stroke-width="0.3"/>
<circle cx="243.45" cy="381.6" r="1.2" fill="#e03040" stroke="#e03040" stroke-width="0.3"/>
<circle cx="278.3" cy="375.66" r="1.2" fill="#e03040" stroke="#e03040" stroke-width="0.3"/>
<circle cx="313.15" cy="343.32" r="1.2" fill="#e03040" stroke="#e03040" stroke-width="0.3"/>
<circle cx="348" cy="322.86" r="1.2" fill="#e03040" stroke="#e03040" stroke-width="0.3"/>
<path d="M208.6,426.48 L243.45,410.64 L278.3,396.78 L313.15,380.94 L348,369.06" fill="none" stroke="#8a8a8a" stroke-width="0.6"  stroke-linecap="butt"/>
<rect x="207.5" y="425.38" width="2.2" height="2.2" fill="#111" stroke="#111" stroke-width="0.3"/>
<rect x="242.35" y="409.54" width="2.2" height="2.2" fill="#111" stroke="#111" stroke-width="0.3"/>
<rect x="277.2" y="395.68" width="2.2" height="2.2" fill="#111" stroke="#111" stroke-width="0.3"/>
<rect x="312.05" y="379.84" width="2.2" height="2.2" fill="#111" stroke="#111" stroke-width="0.3"/>
<rect x="346.9" y="367.96" width="2.2" height="2.2" fill="#111" stroke="#111" stroke-width="0.3"/>
<line x1="306.9" y1="290.5" x2="306.9" y2="313" stroke="#777" stroke-width="1.0" stroke-dasharray="2.6,1.8"/>
<line x1="312" y1="314.2" x2="348" y2="314.2" stroke="#666" stroke-width="1.2" />
<path d="M306.9,314.2 L312.9,312.2 L312.9,316.2 Z" fill="#666"/>
<line x1="306.9" y1="314.2" x2="306.9" y2="447" stroke="#666" stroke-width="1.2" />
<path d="M306.9,454 L304.8,447 L309,447 Z" fill="#666"/>
<text x="305.6" y="264" font-family='"Liberation Sans", sans-serif' font-size="9.4" fill="#6a6a6a" text-anchor="middle" font-weight="normal" font-style="italic" >For Al/Si = 1,</text>
<text x="306" y="276.6" font-family='"Liberation Sans", sans-serif' font-size="9.4" fill="#6a6a6a" text-anchor="middle"><tspan font-style="italic">X</tspan><tspan font-size="6.6" dy="3">K</tspan><tspan dy="-3"> = 0.71 at</tspan></text>
<text x="306.4" y="288.0" font-family='"Liberation Sans", sans-serif' font-size="9.4" fill="#6a6a6a" text-anchor="middle"><tspan font-size="10.2">&#958;</tspan><tspan font-size="6.6" dy="3">C</tspan><tspan dy="-3"> = 0.252</tspan></text>
<rect x="208.6" y="249.6" width="139.4" height="205" fill="none" stroke="#333" stroke-width="0.9"/>
<line x1="208.6" y1="454.6" x2="208.6" y2="452" stroke="#333" stroke-width="0.7" />
<line x1="208.6" y1="249.6" x2="208.6" y2="252.2" stroke="#333" stroke-width="0.7" />
<line x1="226.03" y1="454.6" x2="226.03" y2="453" stroke="#333" stroke-width="0.7" />
<line x1="226.03" y1="249.6" x2="226.03" y2="251.2" stroke="#333" stroke-width="0.7" />
<line x1="243.45" y1="454.6" x2="243.45" y2="452" stroke="#333" stroke-width="0.7" />
<line x1="243.45" y1="249.6" x2="243.45" y2="252.2" stroke="#333" stroke-width="0.7" />
<line x1="260.88" y1="454.6" x2="260.88" y2="453" stroke="#333" stroke-width="0.7" />
<line x1="260.88" y1="249.6" x2="260.88" y2="251.2" stroke="#333" stroke-width="0.7" />
<line x1="278.3" y1="454.6" x2="278.3" y2="452" stroke="#333" stroke-width="0.7" />
<line x1="278.3" y1="249.6" x2="278.3" y2="252.2" stroke="#333" stroke-width="0.7" />
<line x1="295.73" y1="454.6" x2="295.73" y2="453" stroke="#333" stroke-width="0.7" />
<line x1="295.73" y1="249.6" x2="295.73" y2="251.2" stroke="#333" stroke-width="0.7" />
<line x1="313.15" y1="454.6" x2="313.15" y2="452" stroke="#333" stroke-width="0.7" />
<line x1="313.15" y1="249.6" x2="313.15" y2="252.2" stroke="#333" stroke-width="0.7" />
<line x1="330.57" y1="454.6" x2="330.57" y2="453" stroke="#333" stroke-width="0.7" />
<line x1="330.57" y1="249.6" x2="330.57" y2="251.2" stroke="#333" stroke-width="0.7" />
<line x1="348" y1="454.6" x2="348" y2="452" stroke="#333" stroke-width="0.7" />
<line x1="348" y1="249.6" x2="348" y2="252.2" stroke="#333" stroke-width="0.7" />
<line x1="208.6" y1="447.6" x2="211.2" y2="447.6" stroke="#333" stroke-width="0.7" />
<line x1="348" y1="447.6" x2="345.4" y2="447.6" stroke="#333" stroke-width="0.7" />
<line x1="208.6" y1="431.1" x2="210.2" y2="431.1" stroke="#333" stroke-width="0.7" />
<line x1="348" y1="431.1" x2="346.4" y2="431.1" stroke="#333" stroke-width="0.7" />
<line x1="208.6" y1="414.6" x2="211.2" y2="414.6" stroke="#333" stroke-width="0.7" />
<line x1="348" y1="414.6" x2="345.4" y2="414.6" stroke="#333" stroke-width="0.7" />
<line x1="208.6" y1="398.1" x2="210.2" y2="398.1" stroke="#333" stroke-width="0.7" />
<line x1="348" y1="398.1" x2="346.4" y2="398.1" stroke="#333" stroke-width="0.7" />
<line x1="208.6" y1="381.6" x2="211.2" y2="381.6" stroke="#333" stroke-width="0.7" />
<line x1="348" y1="381.6" x2="345.4" y2="381.6" stroke="#333" stroke-width="0.7" />
<line x1="208.6" y1="365.1" x2="210.2" y2="365.1" stroke="#333" stroke-width="0.7" />
<line x1="348" y1="365.1" x2="346.4" y2="365.1" stroke="#333" stroke-width="0.7" />
<line x1="208.6" y1="348.6" x2="211.2" y2="348.6" stroke="#333" stroke-width="0.7" />
<line x1="348" y1="348.6" x2="345.4" y2="348.6" stroke="#333" stroke-width="0.7" />
<line x1="208.6" y1="332.1" x2="210.2" y2="332.1" stroke="#333" stroke-width="0.7" />
<line x1="348" y1="332.1" x2="346.4" y2="332.1" stroke="#333" stroke-width="0.7" />
<line x1="208.6" y1="315.6" x2="211.2" y2="315.6" stroke="#333" stroke-width="0.7" />
<line x1="348" y1="315.6" x2="345.4" y2="315.6" stroke="#333" stroke-width="0.7" />
<line x1="208.6" y1="299.1" x2="210.2" y2="299.1" stroke="#333" stroke-width="0.7" />
<line x1="348" y1="299.1" x2="346.4" y2="299.1" stroke="#333" stroke-width="0.7" />
<line x1="208.6" y1="282.6" x2="211.2" y2="282.6" stroke="#333" stroke-width="0.7" />
<line x1="348" y1="282.6" x2="345.4" y2="282.6" stroke="#333" stroke-width="0.7" />
<line x1="208.6" y1="266.1" x2="210.2" y2="266.1" stroke="#333" stroke-width="0.7" />
<line x1="348" y1="266.1" x2="346.4" y2="266.1" stroke="#333" stroke-width="0.7" />
<line x1="208.6" y1="249.6" x2="211.2" y2="249.6" stroke="#333" stroke-width="0.7" />
<line x1="348" y1="249.6" x2="345.4" y2="249.6" stroke="#333" stroke-width="0.7" />
<text x="208.6" y="462.4" font-family='"Liberation Sans", sans-serif' font-size="6.8" fill="#333" text-anchor="middle" font-weight="normal" font-style="normal" >0.00</text>
<text x="243.45" y="462.4" font-family='"Liberation Sans", sans-serif' font-size="6.8" fill="#333" text-anchor="middle" font-weight="normal" font-style="normal" >0.25</text>
<text x="278.3" y="462.4" font-family='"Liberation Sans", sans-serif' font-size="6.8" fill="#333" text-anchor="middle" font-weight="normal" font-style="normal" >0.50</text>
<text x="313.15" y="462.4" font-family='"Liberation Sans", sans-serif' font-size="6.8" fill="#333" text-anchor="middle" font-weight="normal" font-style="normal" >0.75</text>
<text x="348" y="462.4" font-family='"Liberation Sans", sans-serif' font-size="6.8" fill="#333" text-anchor="middle" font-weight="normal" font-style="normal" >1.00</text>
<text x="204.6" y="450" font-family='"Liberation Sans", sans-serif' font-size="6.8" fill="#333" text-anchor="end" font-weight="normal" font-style="normal" >0.05</text>
<text x="204.6" y="417" font-family='"Liberation Sans", sans-serif' font-size="6.8" fill="#333" text-anchor="end" font-weight="normal" font-style="normal" >0.10</text>
<text x="204.6" y="384" font-family='"Liberation Sans", sans-serif' font-size="6.8" fill="#333" text-anchor="end" font-weight="normal" font-style="normal" >0.15</text>
<text x="204.6" y="351" font-family='"Liberation Sans", sans-serif' font-size="6.8" fill="#333" text-anchor="end" font-weight="normal" font-style="normal" >0.20</text>
<text x="204.6" y="318" font-family='"Liberation Sans", sans-serif' font-size="6.8" fill="#333" text-anchor="end" font-weight="normal" font-style="normal" >0.25</text>
<text x="204.6" y="285" font-family='"Liberation Sans", sans-serif' font-size="6.8" fill="#333" text-anchor="end" font-weight="normal" font-style="normal" >0.30</text>
<text x="204.6" y="252" font-family='"Liberation Sans", sans-serif' font-size="6.8" fill="#333" text-anchor="end" font-weight="normal" font-style="normal" >0.35</text>
<text x="278" y="475" font-family='"Liberation Sans", sans-serif' font-size="9.6" font-weight="bold" font-style="italic" fill="#111" text-anchor="middle" textLength="63.4" lengthAdjust="spacingAndGlyphs">X<tspan font-size="6.4" dy="2.8">K</tspan><tspan dy="-2.8"> = K/(K+Na)</tspan></text>
<text transform="translate(184.2,364.6) rotate(-90)" font-family='"Liberation Sans", sans-serif' font-size="10" font-weight="bold" fill="#111" text-anchor="middle" textLength="108" lengthAdjust="spacingAndGlyphs">Alkali Total Volume, <tspan font-weight="normal" font-size="8" dy="1.6">&#958;</tspan></text>
<text x="211.2" y="268.2" font-family='"Liberation Sans", sans-serif' font-size="15.4" fill="#222" text-anchor="start" font-weight="normal" font-style="normal"  textLength="17.4" lengthAdjust="spacingAndGlyphs">E)</text>
<text x="222.2" y="332.4" font-family='"Liberation Sans", sans-serif' font-size="10.4" fill="#111" text-anchor="start" font-weight="bold" font-style="normal"  textLength="36" lengthAdjust="spacingAndGlyphs">Al/Si =</text>
<text x="261.6" y="332.4" font-family='"Liberation Sans", sans-serif' font-size="10.4" fill="#1f5fa8" text-anchor="start" font-weight="bold" font-style="normal"  textLength="15.4" lengthAdjust="spacingAndGlyphs">1.0</text>
<text x="268.3" y="363.5" font-family='"Liberation Sans", sans-serif' font-size="10.4" fill="#d83040" text-anchor="start" font-weight="bold" font-style="normal"  textLength="22.2" lengthAdjust="spacingAndGlyphs">0.66</text>
<text x="268.5" y="391.6" font-family='"Liberation Sans", sans-serif' font-size="10.4" fill="#111" text-anchor="start" font-weight="bold" font-style="normal"  textLength="22.2" lengthAdjust="spacingAndGlyphs">0.33</text>
<path d="M396.9,261.5 L426.07,260.2 L455.25,261.5 L484.42,270.3" fill="none" stroke="#9ca2c8" stroke-width="0.6" />
<rect x="395.8" y="260.4" width="2.2" height="2.2" fill="#3c4a98" stroke="#3c4a98" stroke-width="0.3"/>
<rect x="424.97" y="259.1" width="2.2" height="2.2" fill="#3c4a98" stroke="#3c4a98" stroke-width="0.3"/>
<rect x="454.15" y="260.4" width="2.2" height="2.2" fill="#3c4a98" stroke="#3c4a98" stroke-width="0.3"/>
<rect x="483.32" y="269.2" width="2.2" height="2.2" fill="#3c4a98" stroke="#3c4a98" stroke-width="0.3"/>
<path d="M426.07,282.2 L455.25,285.3 L484.42,285.3 L513.6,283.8" fill="none" stroke="#b4dce8" stroke-width="0.6" />
<circle cx="426.07" cy="282.2" r="1" fill="#70c0d8" stroke="#70c0d8" stroke-width="0.3"/>
<circle cx="455.25" cy="285.3" r="1" fill="#70c0d8" stroke="#70c0d8" stroke-width="0.3"/>
<circle cx="484.42" cy="285.3" r="1" fill="#70c0d8" stroke="#70c0d8" stroke-width="0.3"/>
<circle cx="513.6" cy="283.8" r="1" fill="#70c0d8" stroke="#70c0d8" stroke-width="0.3"/>
<path d="M396.9,304.3 L426.07,306.4 L455.25,313.5 L484.42,322 L513.6,327.3" fill="none" stroke="#888" stroke-width="0.6" />
<path d="M396.9,302.93 L398.22,305.21 L395.58,305.21 Z" fill="#111" stroke="#111" stroke-width="0.3" stroke-linejoin="miter"/>
<path d="M426.07,305.03 L427.39,307.31 L424.75,307.31 Z" fill="#111" stroke="#111" stroke-width="0.3" stroke-linejoin="miter"/>
<path d="M455.25,312.13 L456.57,314.41 L453.93,314.41 Z" fill="#111" stroke="#111" stroke-width="0.3" stroke-linejoin="miter"/>
<path d="M484.42,320.63 L485.74,322.91 L483.1,322.91 Z" fill="#111" stroke="#111" stroke-width="0.3" stroke-linejoin="miter"/>
<path d="M513.6,325.93 L514.92,328.21 L512.28,328.21 Z" fill="#111" stroke="#111" stroke-width="0.3" stroke-linejoin="miter"/>
<path d="M396.9,374.5 L426.07,384.8 L455.25,391.2 L484.42,407.7 L513.6,419.2" fill="none" stroke="#e08aa8" stroke-width="0.6" />
<circle cx="396.9" cy="374.5" r="1.2" fill="#c8206a" stroke="#c8206a" stroke-width="0.3"/>
<circle cx="426.07" cy="384.8" r="1.2" fill="#c8206a" stroke="#c8206a" stroke-width="0.3"/>
<circle cx="455.25" cy="391.2" r="1.2" fill="#c8206a" stroke="#c8206a" stroke-width="0.3"/>
<circle cx="484.42" cy="407.7" r="1.2" fill="#c8206a" stroke="#c8206a" stroke-width="0.3"/>
<circle cx="513.6" cy="419.2" r="1.2" fill="#c8206a" stroke="#c8206a" stroke-width="0.3"/>
<path d="M396.9,384.8 L426.07,394.8 L455.25,403 L484.42,411.4 L513.6,424.8" fill="none" stroke="#e89098" stroke-width="0.6" />
<path d="M395.65,384.8 L397.74,383.59 L397.74,386.01 Z" fill="#d83050" stroke="#d83050" stroke-width="0.3"/>
<path d="M424.82,394.8 L426.91,393.59 L426.91,396.01 Z" fill="#d83050" stroke="#d83050" stroke-width="0.3"/>
<path d="M454,403 L456.09,401.79 L456.09,404.21 Z" fill="#d83050" stroke="#d83050" stroke-width="0.3"/>
<path d="M483.17,411.4 L485.26,410.19 L485.26,412.61 Z" fill="#d83050" stroke="#d83050" stroke-width="0.3"/>
<path d="M512.35,424.8 L514.44,423.59 L514.44,426.01 Z" fill="#d83050" stroke="#d83050" stroke-width="0.3"/>
<path d="M396.9,396.4 L426.07,406.6 L455.25,416.4 L484.42,420.8 L513.6,436.6" fill="none" stroke="#a8d898" stroke-width="0.6" />
<path d="M396.9,397.65 L398.11,395.56 L395.69,395.56 Z" fill="#58b040" stroke="#58b040" stroke-width="0.3"/>
<path d="M426.07,407.85 L427.28,405.76 L424.87,405.76 Z" fill="#58b040" stroke="#58b040" stroke-width="0.3"/>
<path d="M455.25,417.65 L456.46,415.56 L454.04,415.56 Z" fill="#58b040" stroke="#58b040" stroke-width="0.3"/>
<path d="M484.42,422.05 L485.63,419.96 L483.21,419.96 Z" fill="#58b040" stroke="#58b040" stroke-width="0.3"/>
<path d="M513.6,437.85 L514.81,435.76 L512.39,435.76 Z" fill="#58b040" stroke="#58b040" stroke-width="0.3"/>
<rect x="385.4" y="249" width="140" height="205.6" fill="none" stroke="#333" stroke-width="0.9"/>
<line x1="385.4" y1="454.6" x2="388" y2="454.6" stroke="#333" stroke-width="0.6" />
<line x1="525.4" y1="454.6" x2="522.8" y2="454.6" stroke="#333" stroke-width="0.6" />
<line x1="385.4" y1="439.13" x2="386.9" y2="439.13" stroke="#333" stroke-width="0.6" />
<line x1="525.4" y1="439.13" x2="523.9" y2="439.13" stroke="#333" stroke-width="0.6" />
<line x1="385.4" y1="430.08" x2="386.9" y2="430.08" stroke="#333" stroke-width="0.6" />
<line x1="525.4" y1="430.08" x2="523.9" y2="430.08" stroke="#333" stroke-width="0.6" />
<line x1="385.4" y1="423.65" x2="386.9" y2="423.65" stroke="#333" stroke-width="0.6" />
<line x1="525.4" y1="423.65" x2="523.9" y2="423.65" stroke="#333" stroke-width="0.6" />
<line x1="385.4" y1="418.67" x2="386.9" y2="418.67" stroke="#333" stroke-width="0.6" />
<line x1="525.4" y1="418.67" x2="523.9" y2="418.67" stroke="#333" stroke-width="0.6" />
<line x1="385.4" y1="414.6" x2="386.9" y2="414.6" stroke="#333" stroke-width="0.6" />
<line x1="525.4" y1="414.6" x2="523.9" y2="414.6" stroke="#333" stroke-width="0.6" />
<line x1="385.4" y1="411.16" x2="386.9" y2="411.16" stroke="#333" stroke-width="0.6" />
<line x1="525.4" y1="411.16" x2="523.9" y2="411.16" stroke="#333" stroke-width="0.6" />
<line x1="385.4" y1="408.18" x2="386.9" y2="408.18" stroke="#333" stroke-width="0.6" />
<line x1="525.4" y1="408.18" x2="523.9" y2="408.18" stroke="#333" stroke-width="0.6" />
<line x1="385.4" y1="405.55" x2="386.9" y2="405.55" stroke="#333" stroke-width="0.6" />
<line x1="525.4" y1="405.55" x2="523.9" y2="405.55" stroke="#333" stroke-width="0.6" />
<line x1="385.4" y1="403.2" x2="388" y2="403.2" stroke="#333" stroke-width="0.6" />
<line x1="525.4" y1="403.2" x2="522.8" y2="403.2" stroke="#333" stroke-width="0.6" />
<line x1="385.4" y1="387.73" x2="386.9" y2="387.73" stroke="#333" stroke-width="0.6" />
<line x1="525.4" y1="387.73" x2="523.9" y2="387.73" stroke="#333" stroke-width="0.6" />
<line x1="385.4" y1="378.68" x2="386.9" y2="378.68" stroke="#333" stroke-width="0.6" />
<line x1="525.4" y1="378.68" x2="523.9" y2="378.68" stroke="#333" stroke-width="0.6" />
<line x1="385.4" y1="372.25" x2="386.9" y2="372.25" stroke="#333" stroke-width="0.6" />
<line x1="525.4" y1="372.25" x2="523.9" y2="372.25" stroke="#333" stroke-width="0.6" />
<line x1="385.4" y1="367.27" x2="386.9" y2="367.27" stroke="#333" stroke-width="0.6" />
<line x1="525.4" y1="367.27" x2="523.9" y2="367.27" stroke="#333" stroke-width="0.6" />
<line x1="385.4" y1="363.2" x2="386.9" y2="363.2" stroke="#333" stroke-width="0.6" />
<line x1="525.4" y1="363.2" x2="523.9" y2="363.2" stroke="#333" stroke-width="0.6" />
<line x1="385.4" y1="359.76" x2="386.9" y2="359.76" stroke="#333" stroke-width="0.6" />
<line x1="525.4" y1="359.76" x2="523.9" y2="359.76" stroke="#333" stroke-width="0.6" />
<line x1="385.4" y1="356.78" x2="386.9" y2="356.78" stroke="#333" stroke-width="0.6" />
<line x1="525.4" y1="356.78" x2="523.9" y2="356.78" stroke="#333" stroke-width="0.6" />
<line x1="385.4" y1="354.15" x2="386.9" y2="354.15" stroke="#333" stroke-width="0.6" />
<line x1="525.4" y1="354.15" x2="523.9" y2="354.15" stroke="#333" stroke-width="0.6" />
<line x1="385.4" y1="351.8" x2="388" y2="351.8" stroke="#333" stroke-width="0.6" />
<line x1="525.4" y1="351.8" x2="522.8" y2="351.8" stroke="#333" stroke-width="0.6" />
<line x1="385.4" y1="336.33" x2="386.9" y2="336.33" stroke="#333" stroke-width="0.6" />
<line x1="525.4" y1="336.33" x2="523.9" y2="336.33" stroke="#333" stroke-width="0.6" />
<line x1="385.4" y1="327.28" x2="386.9" y2="327.28" stroke="#333" stroke-width="0.6" />
<line x1="525.4" y1="327.28" x2="523.9" y2="327.28" stroke="#333" stroke-width="0.6" />
<line x1="385.4" y1="320.85" x2="386.9" y2="320.85" stroke="#333" stroke-width="0.6" />
<line x1="525.4" y1="320.85" x2="523.9" y2="320.85" stroke="#333" stroke-width="0.6" />
<line x1="385.4" y1="315.87" x2="386.9" y2="315.87" stroke="#333" stroke-width="0.6" />
<line x1="525.4" y1="315.87" x2="523.9" y2="315.87" stroke="#333" stroke-width="0.6" />
<line x1="385.4" y1="311.8" x2="386.9" y2="311.8" stroke="#333" stroke-width="0.6" />
<line x1="525.4" y1="311.8" x2="523.9" y2="311.8" stroke="#333" stroke-width="0.6" />
<line x1="385.4" y1="308.36" x2="386.9" y2="308.36" stroke="#333" stroke-width="0.6" />
<line x1="525.4" y1="308.36" x2="523.9" y2="308.36" stroke="#333" stroke-width="0.6" />
<line x1="385.4" y1="305.38" x2="386.9" y2="305.38" stroke="#333" stroke-width="0.6" />
<line x1="525.4" y1="305.38" x2="523.9" y2="305.38" stroke="#333" stroke-width="0.6" />
<line x1="385.4" y1="302.75" x2="386.9" y2="302.75" stroke="#333" stroke-width="0.6" />
<line x1="525.4" y1="302.75" x2="523.9" y2="302.75" stroke="#333" stroke-width="0.6" />
<line x1="385.4" y1="300.4" x2="388" y2="300.4" stroke="#333" stroke-width="0.6" />
<line x1="525.4" y1="300.4" x2="522.8" y2="300.4" stroke="#333" stroke-width="0.6" />
<line x1="385.4" y1="284.93" x2="386.9" y2="284.93" stroke="#333" stroke-width="0.6" />
<line x1="525.4" y1="284.93" x2="523.9" y2="284.93" stroke="#333" stroke-width="0.6" />
<line x1="385.4" y1="275.88" x2="386.9" y2="275.88" stroke="#333" stroke-width="0.6" />
<line x1="525.4" y1="275.88" x2="523.9" y2="275.88" stroke="#333" stroke-width="0.6" />
<line x1="385.4" y1="269.45" x2="386.9" y2="269.45" stroke="#333" stroke-width="0.6" />
<line x1="525.4" y1="269.45" x2="523.9" y2="269.45" stroke="#333" stroke-width="0.6" />
<line x1="385.4" y1="264.47" x2="386.9" y2="264.47" stroke="#333" stroke-width="0.6" />
<line x1="525.4" y1="264.47" x2="523.9" y2="264.47" stroke="#333" stroke-width="0.6" />
<line x1="385.4" y1="260.4" x2="386.9" y2="260.4" stroke="#333" stroke-width="0.6" />
<line x1="525.4" y1="260.4" x2="523.9" y2="260.4" stroke="#333" stroke-width="0.6" />
<line x1="385.4" y1="256.96" x2="386.9" y2="256.96" stroke="#333" stroke-width="0.6" />
<line x1="525.4" y1="256.96" x2="523.9" y2="256.96" stroke="#333" stroke-width="0.6" />
<line x1="385.4" y1="253.98" x2="386.9" y2="253.98" stroke="#333" stroke-width="0.6" />
<line x1="525.4" y1="253.98" x2="523.9" y2="253.98" stroke="#333" stroke-width="0.6" />
<line x1="385.4" y1="251.35" x2="386.9" y2="251.35" stroke="#333" stroke-width="0.6" />
<line x1="525.4" y1="251.35" x2="523.9" y2="251.35" stroke="#333" stroke-width="0.6" />
<line x1="396.9" y1="454.6" x2="396.9" y2="452" stroke="#333" stroke-width="0.7" />
<line x1="396.9" y1="249" x2="396.9" y2="251.6" stroke="#333" stroke-width="0.7" />
<line x1="411.49" y1="454.6" x2="411.49" y2="453" stroke="#333" stroke-width="0.7" />
<line x1="411.49" y1="249" x2="411.49" y2="250.6" stroke="#333" stroke-width="0.7" />
<line x1="426.07" y1="454.6" x2="426.07" y2="452" stroke="#333" stroke-width="0.7" />
<line x1="426.07" y1="249" x2="426.07" y2="251.6" stroke="#333" stroke-width="0.7" />
<line x1="440.66" y1="454.6" x2="440.66" y2="453" stroke="#333" stroke-width="0.7" />
<line x1="440.66" y1="249" x2="440.66" y2="250.6" stroke="#333" stroke-width="0.7" />
<line x1="455.25" y1="454.6" x2="455.25" y2="452" stroke="#333" stroke-width="0.7" />
<line x1="455.25" y1="249" x2="455.25" y2="251.6" stroke="#333" stroke-width="0.7" />
<line x1="469.84" y1="454.6" x2="469.84" y2="453" stroke="#333" stroke-width="0.7" />
<line x1="469.84" y1="249" x2="469.84" y2="250.6" stroke="#333" stroke-width="0.7" />
<line x1="484.42" y1="454.6" x2="484.42" y2="452" stroke="#333" stroke-width="0.7" />
<line x1="484.42" y1="249" x2="484.42" y2="251.6" stroke="#333" stroke-width="0.7" />
<line x1="499.01" y1="454.6" x2="499.01" y2="453" stroke="#333" stroke-width="0.7" />
<line x1="499.01" y1="249" x2="499.01" y2="250.6" stroke="#333" stroke-width="0.7" />
<line x1="513.6" y1="454.6" x2="513.6" y2="452" stroke="#333" stroke-width="0.7" />
<line x1="513.6" y1="249" x2="513.6" y2="251.6" stroke="#333" stroke-width="0.7" />
<text x="396.9" y="462.4" font-family='"Liberation Sans", sans-serif' font-size="6.8" fill="#333" text-anchor="middle" font-weight="normal" font-style="normal" >0.00</text>
<text x="426.07" y="462.4" font-family='"Liberation Sans", sans-serif' font-size="6.8" fill="#333" text-anchor="middle" font-weight="normal" font-style="normal" >0.25</text>
<text x="455.25" y="462.4" font-family='"Liberation Sans", sans-serif' font-size="6.8" fill="#333" text-anchor="middle" font-weight="normal" font-style="normal" >0.50</text>
<text x="484.42" y="462.4" font-family='"Liberation Sans", sans-serif' font-size="6.8" fill="#333" text-anchor="middle" font-weight="normal" font-style="normal" >0.75</text>
<text x="513.6" y="462.4" font-family='"Liberation Sans", sans-serif' font-size="6.8" fill="#333" text-anchor="middle" font-weight="normal" font-style="normal" >1.00</text>
<text x="382.6" y="457" font-family='"Liberation Sans", sans-serif' font-size="6.8" fill="#333" text-anchor="end" font-weight="normal" font-style="normal" >1E-12</text>
<text x="382.6" y="405.6" font-family='"Liberation Sans", sans-serif' font-size="6.8" fill="#333" text-anchor="end" font-weight="normal" font-style="normal" >1E-11</text>
<text x="382.6" y="354.2" font-family='"Liberation Sans", sans-serif' font-size="6.8" fill="#333" text-anchor="end" font-weight="normal" font-style="normal" >1E-10</text>
<text x="382.6" y="302.8" font-family='"Liberation Sans", sans-serif' font-size="6.8" fill="#333" text-anchor="end" font-weight="normal" font-style="normal" >1E-9</text>
<text x="382.6" y="251.4" font-family='"Liberation Sans", sans-serif' font-size="6.8" fill="#333" text-anchor="end" font-weight="normal" font-style="normal" >1E-8</text>
<text x="455.2" y="475" font-family='"Liberation Sans", sans-serif' font-size="9.6" font-weight="bold" font-style="italic" fill="#111" text-anchor="middle" textLength="61.6" lengthAdjust="spacingAndGlyphs">X<tspan font-size="6.4" dy="2.8">K</tspan><tspan dy="-2.8"> = K/(K+Na)</tspan></text>
<text transform="translate(361.0,344.5) rotate(-90)" font-family='"Liberation Sans", sans-serif' font-size="8.8" font-weight="bold" fill="#111" text-anchor="middle" textLength="66.4" lengthAdjust="spacingAndGlyphs">Diffusivity (m<tspan font-size="5.4" dy="-3.2">2</tspan><tspan dy="3.2">s</tspan><tspan font-size="5.4" dy="-3.2">-1</tspan><tspan dy="3.2">)</tspan></text>
<text x="502.2" y="267.8" font-family='"Liberation Sans", sans-serif' font-size="15.6" fill="#222" text-anchor="start" font-weight="normal" font-style="normal"  textLength="15.4" lengthAdjust="spacingAndGlyphs">F)</text>
<text x="419.4" y="272.2" font-family='"Liberation Sans", sans-serif' font-size="8.8" fill="#4a58a8" text-anchor="start" font-weight="normal" font-style="normal"  textLength="11" lengthAdjust="spacingAndGlyphs">Na</text>
<text x="464.4" y="299" font-family='"Liberation Sans", sans-serif' font-size="8.8" fill="#78c4dc" text-anchor="start" font-weight="normal" font-style="normal"  textLength="6.4" lengthAdjust="spacingAndGlyphs">K</text>
<text x="421.4" y="326.2" font-family='"Liberation Sans", sans-serif' font-size="8.8" fill="#222" text-anchor="start" font-weight="normal" font-style="normal"  textLength="19.6" lengthAdjust="spacingAndGlyphs">Total</text>
<text x="428.6" y="356.6" font-family='"Liberation Sans", sans-serif' font-size="10.4" fill="#111" text-anchor="start" font-weight="bold" font-style="normal"  textLength="54" lengthAdjust="spacingAndGlyphs">Al/Si = 1.0</text>
<text x="409" y="374.8" font-family='"Liberation Sans", sans-serif' font-size="8.8" fill="#c8206a" text-anchor="start" font-weight="normal" font-style="normal"  textLength="8.2" lengthAdjust="spacingAndGlyphs">Al</text>
<text x="405.8" y="397.4" font-family='"Liberation Sans", sans-serif' font-size="8.8" fill="#d83050" text-anchor="start" font-weight="normal" font-style="normal"  textLength="6.6" lengthAdjust="spacingAndGlyphs">O</text>
<text x="405.3" y="412.8" font-family='"Liberation Sans", sans-serif' font-size="8.8" fill="#58b040" text-anchor="start" font-weight="normal" font-style="normal"  textLength="7.6" lengthAdjust="spacingAndGlyphs">Si</text>
<path d="M559.6,437.6 L582.4,434.46 L605.2,435.4 L628,422.53 L650.8,373.86" fill="none" stroke="#e0303c" stroke-width="1.4" stroke-dasharray="5.5,3"/>
<circle cx="559.6" cy="437.6" r="2.4" fill="#e0303c" stroke="#e0303c" stroke-width="0.9"/>
<circle cx="582.4" cy="434.46" r="2.4" fill="#e0303c" stroke="#e0303c" stroke-width="0.9"/>
<circle cx="605.2" cy="435.4" r="2.4" fill="#e0303c" stroke="#e0303c" stroke-width="0.9"/>
<circle cx="628" cy="422.53" r="2.4" fill="#e0303c" stroke="#e0303c" stroke-width="0.9"/>
<circle cx="650.8" cy="373.86" r="2.4" fill="#e0303c" stroke="#e0303c" stroke-width="0.9"/>
<path d="M559.6,422.21 L582.4,415.62 L605.2,413.42 L628,393.64 L650.8,364.12" fill="none" stroke="#e0303c" stroke-width="1.4" stroke-dasharray="0.1,2.5" stroke-linecap="round"/>
<circle cx="559.6" cy="422.21" r="2.2" fill="#fff" stroke="#e0303c" stroke-width="0.9"/>
<circle cx="559.6" cy="422.21" r="0.55" fill="#e0303c"/>
<circle cx="582.4" cy="415.62" r="2.2" fill="#fff" stroke="#e0303c" stroke-width="0.9"/>
<circle cx="582.4" cy="415.62" r="0.55" fill="#e0303c"/>
<circle cx="605.2" cy="413.42" r="2.2" fill="#fff" stroke="#e0303c" stroke-width="0.9"/>
<circle cx="605.2" cy="413.42" r="0.55" fill="#e0303c"/>
<circle cx="628" cy="393.64" r="2.2" fill="#fff" stroke="#e0303c" stroke-width="0.9"/>
<circle cx="628" cy="393.64" r="0.55" fill="#e0303c"/>
<circle cx="650.8" cy="364.12" r="2.2" fill="#fff" stroke="#e0303c" stroke-width="0.9"/>
<circle cx="650.8" cy="364.12" r="0.55" fill="#e0303c"/>
<path d="M559.6,415.62 L582.4,400.86 L605.2,378.57 L628,291.59" fill="none" stroke="#3c58b0" stroke-width="1.4" stroke-dasharray="0.1,2.5" stroke-linecap="round"/>
<path d="M559.6,413.34 L561.8,417.14 L557.4,417.14 Z" fill="#fff" stroke="#3c58b0" stroke-width="0.9" stroke-linejoin="miter"/>
<circle cx="559.6" cy="416.12" r="0.55" fill="#3c58b0"/>
<path d="M582.4,398.58 L584.6,402.38 L580.2,402.38 Z" fill="#fff" stroke="#3c58b0" stroke-width="0.9" stroke-linejoin="miter"/>
<circle cx="582.4" cy="401.36" r="0.55" fill="#3c58b0"/>
<path d="M605.2,376.29 L607.4,380.09 L603,380.09 Z" fill="#fff" stroke="#3c58b0" stroke-width="0.9" stroke-linejoin="miter"/>
<circle cx="605.2" cy="379.07" r="0.55" fill="#3c58b0"/>
<path d="M628,289.31 L630.2,293.11 L625.8,293.11 Z" fill="#fff" stroke="#3c58b0" stroke-width="0.9" stroke-linejoin="miter"/>
<circle cx="628" cy="292.09" r="0.55" fill="#3c58b0"/>
<path d="M559.6,437.6 L582.4,420.33 L605.2,396.78 L628,366.01 L650.8,278.09" fill="none" stroke="#3c58b0" stroke-width="1.4" stroke-dasharray="5.5,3"/>
<path d="M559.6,435.21 L561.91,439.2 L557.29,439.2 Z" fill="#3c58b0" stroke="#3c58b0" stroke-width="0.9" stroke-linejoin="miter"/>
<path d="M582.4,417.94 L584.71,421.93 L580.09,421.93 Z" fill="#3c58b0" stroke="#3c58b0" stroke-width="0.9" stroke-linejoin="miter"/>
<path d="M605.2,394.39 L607.51,398.38 L602.89,398.38 Z" fill="#3c58b0" stroke="#3c58b0" stroke-width="0.9" stroke-linejoin="miter"/>
<path d="M628,363.61 L630.31,367.6 L625.69,367.6 Z" fill="#3c58b0" stroke="#3c58b0" stroke-width="0.9" stroke-linejoin="miter"/>
<path d="M650.8,275.69 L653.11,279.68 L648.49,279.68 Z" fill="#3c58b0" stroke="#3c58b0" stroke-width="0.9" stroke-linejoin="miter"/>
<path d="M559.6,428.81 L582.4,423.78 L605.2,421.27 L628,414.99 L650.8,409.03" fill="none" stroke="#111" stroke-width="1.4" stroke-dasharray="0.1,2.5" stroke-linecap="round"/>
<rect x="557.6" y="426.81" width="4" height="4" fill="#fff" stroke="#111" stroke-width="0.9"/>
<circle cx="559.6" cy="428.81" r="0.55" fill="#111"/>
<rect x="580.4" y="421.78" width="4" height="4" fill="#fff" stroke="#111" stroke-width="0.9"/>
<circle cx="582.4" cy="423.78" r="0.55" fill="#111"/>
<rect x="603.2" y="419.27" width="4" height="4" fill="#fff" stroke="#111" stroke-width="0.9"/>
<circle cx="605.2" cy="421.27" r="0.55" fill="#111"/>
<rect x="626" y="412.99" width="4" height="4" fill="#fff" stroke="#111" stroke-width="0.9"/>
<circle cx="628" cy="414.99" r="0.55" fill="#111"/>
<rect x="648.8" y="407.03" width="4" height="4" fill="#fff" stroke="#111" stroke-width="0.9"/>
<circle cx="650.8" cy="409.03" r="0.55" fill="#111"/>
<path d="M559.6,437.6 L582.4,431.32 L605.2,427.87 L628,421.59 L650.8,400.55" fill="none" stroke="#111" stroke-width="1.4" stroke-dasharray="5.5,3"/>
<rect x="557.5" y="435.5" width="4.2" height="4.2" fill="#111" stroke="#111" stroke-width="0.9"/>
<rect x="580.3" y="429.22" width="4.2" height="4.2" fill="#111" stroke="#111" stroke-width="0.9"/>
<rect x="603.1" y="425.77" width="4.2" height="4.2" fill="#111" stroke="#111" stroke-width="0.9"/>
<rect x="625.9" y="419.49" width="4.2" height="4.2" fill="#111" stroke="#111" stroke-width="0.9"/>
<rect x="648.7" y="398.45" width="4.2" height="4.2" fill="#111" stroke="#111" stroke-width="0.9"/>
<rect x="555.4" y="249.2" width="99.8" height="204.2" fill="none" stroke="#333" stroke-width="0.9"/>
<line x1="555.4" y1="453.3" x2="557" y2="453.3" stroke="#333" stroke-width="0.7" />
<line x1="555.4" y1="437.6" x2="558" y2="437.6" stroke="#333" stroke-width="0.7" />
<line x1="555.4" y1="421.9" x2="557" y2="421.9" stroke="#333" stroke-width="0.7" />
<line x1="555.4" y1="406.2" x2="558" y2="406.2" stroke="#333" stroke-width="0.7" />
<line x1="555.4" y1="390.5" x2="557" y2="390.5" stroke="#333" stroke-width="0.7" />
<line x1="555.4" y1="374.8" x2="558" y2="374.8" stroke="#333" stroke-width="0.7" />
<line x1="555.4" y1="359.1" x2="557" y2="359.1" stroke="#333" stroke-width="0.7" />
<line x1="555.4" y1="343.4" x2="558" y2="343.4" stroke="#333" stroke-width="0.7" />
<line x1="555.4" y1="327.7" x2="557" y2="327.7" stroke="#333" stroke-width="0.7" />
<line x1="555.4" y1="312" x2="558" y2="312" stroke="#333" stroke-width="0.7" />
<line x1="555.4" y1="296.3" x2="557" y2="296.3" stroke="#333" stroke-width="0.7" />
<line x1="555.4" y1="280.6" x2="558" y2="280.6" stroke="#333" stroke-width="0.7" />
<line x1="555.4" y1="264.9" x2="557" y2="264.9" stroke="#333" stroke-width="0.7" />
<line x1="555.4" y1="249.2" x2="558" y2="249.2" stroke="#333" stroke-width="0.7" />
<line x1="559.6" y1="453.4" x2="559.6" y2="450.8" stroke="#333" stroke-width="0.7" />
<line x1="559.6" y1="249.2" x2="559.6" y2="251.8" stroke="#333" stroke-width="0.7" />
<line x1="582.4" y1="453.4" x2="582.4" y2="451.8" stroke="#333" stroke-width="0.7" />
<line x1="582.4" y1="249.2" x2="582.4" y2="250.8" stroke="#333" stroke-width="0.7" />
<line x1="605.2" y1="453.4" x2="605.2" y2="450.8" stroke="#333" stroke-width="0.7" />
<line x1="605.2" y1="249.2" x2="605.2" y2="251.8" stroke="#333" stroke-width="0.7" />
<line x1="628" y1="453.4" x2="628" y2="451.8" stroke="#333" stroke-width="0.7" />
<line x1="628" y1="249.2" x2="628" y2="250.8" stroke="#333" stroke-width="0.7" />
<line x1="650.8" y1="453.4" x2="650.8" y2="450.8" stroke="#333" stroke-width="0.7" />
<line x1="650.8" y1="249.2" x2="650.8" y2="251.8" stroke="#333" stroke-width="0.7" />
<line x1="655.2" y1="453.4" x2="652.4" y2="453.4" stroke="#333" stroke-width="0.7" />
<line x1="655.2" y1="436.84" x2="653.6" y2="436.84" stroke="#333" stroke-width="0.7" />
<line x1="655.2" y1="427.16" x2="653.6" y2="427.16" stroke="#333" stroke-width="0.7" />
<line x1="655.2" y1="420.29" x2="653.6" y2="420.29" stroke="#333" stroke-width="0.7" />
<line x1="655.2" y1="414.96" x2="653.6" y2="414.96" stroke="#333" stroke-width="0.7" />
<line x1="655.2" y1="410.6" x2="653.6" y2="410.6" stroke="#333" stroke-width="0.7" />
<line x1="655.2" y1="406.92" x2="653.6" y2="406.92" stroke="#333" stroke-width="0.7" />
<line x1="655.2" y1="403.73" x2="653.6" y2="403.73" stroke="#333" stroke-width="0.7" />
<line x1="655.2" y1="400.92" x2="653.6" y2="400.92" stroke="#333" stroke-width="0.7" />
<text x="659.6" y="455.8" font-family='"Liberation Sans", sans-serif' font-size="6.8" fill="#333">10<tspan font-size="4.6" dy="-3">0</tspan></text>
<line x1="655.2" y1="398.4" x2="652.4" y2="398.4" stroke="#333" stroke-width="0.7" />
<line x1="655.2" y1="381.84" x2="653.6" y2="381.84" stroke="#333" stroke-width="0.7" />
<line x1="655.2" y1="372.16" x2="653.6" y2="372.16" stroke="#333" stroke-width="0.7" />
<line x1="655.2" y1="365.29" x2="653.6" y2="365.29" stroke="#333" stroke-width="0.7" />
<line x1="655.2" y1="359.96" x2="653.6" y2="359.96" stroke="#333" stroke-width="0.7" />
<line x1="655.2" y1="355.6" x2="653.6" y2="355.6" stroke="#333" stroke-width="0.7" />
<line x1="655.2" y1="351.92" x2="653.6" y2="351.92" stroke="#333" stroke-width="0.7" />
<line x1="655.2" y1="348.73" x2="653.6" y2="348.73" stroke="#333" stroke-width="0.7" />
<line x1="655.2" y1="345.92" x2="653.6" y2="345.92" stroke="#333" stroke-width="0.7" />
<text x="659.6" y="400.8" font-family='"Liberation Sans", sans-serif' font-size="6.8" fill="#333">10<tspan font-size="4.6" dy="-3">1</tspan></text>
<line x1="655.2" y1="343.4" x2="652.4" y2="343.4" stroke="#333" stroke-width="0.7" />
<line x1="655.2" y1="326.84" x2="653.6" y2="326.84" stroke="#333" stroke-width="0.7" />
<line x1="655.2" y1="317.16" x2="653.6" y2="317.16" stroke="#333" stroke-width="0.7" />
<line x1="655.2" y1="310.29" x2="653.6" y2="310.29" stroke="#333" stroke-width="0.7" />
<line x1="655.2" y1="304.96" x2="653.6" y2="304.96" stroke="#333" stroke-width="0.7" />
<line x1="655.2" y1="300.6" x2="653.6" y2="300.6" stroke="#333" stroke-width="0.7" />
<line x1="655.2" y1="296.92" x2="653.6" y2="296.92" stroke="#333" stroke-width="0.7" />
<line x1="655.2" y1="293.73" x2="653.6" y2="293.73" stroke="#333" stroke-width="0.7" />
<line x1="655.2" y1="290.92" x2="653.6" y2="290.92" stroke="#333" stroke-width="0.7" />
<text x="659.6" y="345.8" font-family='"Liberation Sans", sans-serif' font-size="6.8" fill="#333">10<tspan font-size="4.6" dy="-3">2</tspan></text>
<line x1="655.2" y1="288.4" x2="652.4" y2="288.4" stroke="#333" stroke-width="0.7" />
<line x1="655.2" y1="271.84" x2="653.6" y2="271.84" stroke="#333" stroke-width="0.7" />
<line x1="655.2" y1="262.16" x2="653.6" y2="262.16" stroke="#333" stroke-width="0.7" />
<line x1="655.2" y1="255.29" x2="653.6" y2="255.29" stroke="#333" stroke-width="0.7" />
<line x1="655.2" y1="249.96" x2="653.6" y2="249.96" stroke="#333" stroke-width="0.7" />
<text x="659.6" y="290.8" font-family='"Liberation Sans", sans-serif' font-size="6.8" fill="#333">10<tspan font-size="4.6" dy="-3">3</tspan></text>
<text x="559.6" y="462.4" font-family='"Liberation Sans", sans-serif' font-size="7.0" fill="#333" text-anchor="middle" font-weight="normal" font-style="normal" >0.0</text>
<text x="605.2" y="462.4" font-family='"Liberation Sans", sans-serif' font-size="7.0" fill="#333" text-anchor="middle" font-weight="normal" font-style="normal" >0.5</text>
<text x="650.8" y="462.4" font-family='"Liberation Sans", sans-serif' font-size="7.0" fill="#333" text-anchor="middle" font-weight="normal" font-style="normal" >1.0</text>
<text x="551.2" y="440.1" font-family='"Liberation Sans", sans-serif' font-size="7.0" fill="#333" text-anchor="end" font-weight="normal" font-style="normal" >1</text>
<text x="551.2" y="408.7" font-family='"Liberation Sans", sans-serif' font-size="7.0" fill="#333" text-anchor="end" font-weight="normal" font-style="normal" >2</text>
<text x="551.2" y="377.3" font-family='"Liberation Sans", sans-serif' font-size="7.0" fill="#333" text-anchor="end" font-weight="normal" font-style="normal" >3</text>
<text x="551.2" y="345.9" font-family='"Liberation Sans", sans-serif' font-size="7.0" fill="#333" text-anchor="end" font-weight="normal" font-style="normal" >4</text>
<text x="551.2" y="314.5" font-family='"Liberation Sans", sans-serif' font-size="7.0" fill="#333" text-anchor="end" font-weight="normal" font-style="normal" >5</text>
<text x="551.2" y="283.1" font-family='"Liberation Sans", sans-serif' font-size="7.0" fill="#333" text-anchor="end" font-weight="normal" font-style="normal" >6</text>
<text x="551.2" y="251.7" font-family='"Liberation Sans", sans-serif' font-size="7.0" fill="#333" text-anchor="end" font-weight="normal" font-style="normal" >7</text>
<text x="609.6" y="475" font-family='"Liberation Sans", sans-serif' font-size="9.6" font-weight="bold" font-style="italic" fill="#111" text-anchor="middle" textLength="62.6" lengthAdjust="spacingAndGlyphs">X<tspan font-size="6.4" dy="2.8">K</tspan><tspan dy="-2.8"> = K/(K+Na)</tspan></text>
<g transform="translate(536.2,351.6) rotate(-90)">
<text x="0" y="-1.6" font-family='"Liberation Sans", sans-serif' font-size="7" font-style="italic" fill="#333" text-anchor="middle">&#951;</text>
<line x1="-11" y1="0.4" x2="11" y2="0.4" stroke="#333" stroke-width="0.6"/>
<text x="0" y="5.8" font-family='"Liberation Sans", sans-serif' font-size="5.8" fill="#333" text-anchor="middle" textLength="20" lengthAdjust="spacingAndGlyphs"><tspan font-style="italic">&#951;</tspan><tspan font-size="4.4" dy="1.2">X<tspan font-size="3.4" dy="0.8">K</tspan><tspan dy="-0.8">=0.0</tspan></tspan></text>
</g>
<text transform="translate(680.6,348) rotate(-90)" font-family='"Liberation Sans", sans-serif' font-size="7.6" fill="#222" text-anchor="middle" textLength="58.4" lengthAdjust="spacingAndGlyphs">Cluster size, <tspan font-style="italic">&#197;</tspan></text>
<text x="557.8" y="267.8" font-family='"Liberation Sans", sans-serif' font-size="16.0" fill="#222" text-anchor="start" font-weight="normal" font-style="normal"  textLength="18.2" lengthAdjust="spacingAndGlyphs">G)</text>
<text x="583" y="267.6" font-family='"Liberation Sans", sans-serif' font-size="10.2" fill="#111" text-anchor="start" font-weight="bold" font-style="normal"  textLength="35.4" lengthAdjust="spacingAndGlyphs">Al/Si =</text>
<text x="618.6" y="267.6" font-family='"Liberation Sans", sans-serif' font-size="10.0" fill="#1f5fa8" text-anchor="start" font-weight="bold" font-style="normal"  textLength="13.4" lengthAdjust="spacingAndGlyphs">1.0</text>
<line x1="627.2" y1="269.6" x2="627.37" y2="285.4" stroke="#3c58b0" stroke-width="1.0" />
<path d="M627.4,288.4 L625.65,283.42 L629.05,283.38 Z" fill="#3c58b0"/>
<line x1="632.2" y1="270.2" x2="645.41" y2="275.49" stroke="#3c58b0" stroke-width="1.0" />
<path d="M648.2,276.6 L642.93,276.32 L644.19,273.16 Z" fill="#3c58b0"/>
<rect x="630.2" y="381.2" width="19.6" height="8.6" fill="#fff"/>
<text x="630.4" y="389" font-family='"Liberation Sans", sans-serif' font-size="10.0" fill="#e0303c" text-anchor="start" font-weight="bold" font-style="normal"  textLength="19" lengthAdjust="spacingAndGlyphs">0.66</text>
<text x="616.2" y="445.9" font-family='"Liberation Sans", sans-serif' font-size="10.0" fill="#111" text-anchor="start" font-weight="bold" font-style="normal"  textLength="19.6" lengthAdjust="spacingAndGlyphs">0.33</text>
<line x1="627" y1="435" x2="647.02" y2="408.24" stroke="#111" stroke-width="1.1" />
<path d="M649,405.6 L647.39,411.26 L644.02,408.75 Z" fill="#111"/>
<line x1="630.8" y1="437" x2="645.7" y2="418.95" stroke="#111" stroke-width="1.1" />
<path d="M647.8,416.4 L645.92,421.98 L642.68,419.31 Z" fill="#111"/>
</svg></body></html>
